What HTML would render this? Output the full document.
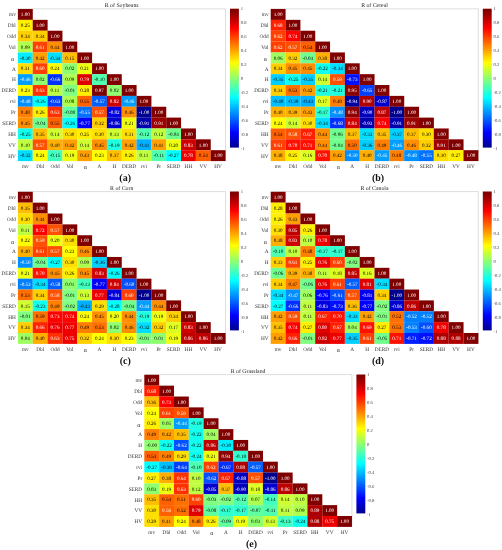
<!DOCTYPE html>
<html><head><meta charset="utf-8"><title>Correlation matrices</title>
<style>
html,body{margin:0;padding:0;background:#fff;}
body{width:502px;height:550px;overflow:hidden;}
svg{display:block;filter:blur(0.3px);}
text{font-family:'Liberation Serif', serif;text-rendering:geometricPrecision;}
.v{font-size:5.1px;text-anchor:middle;}
.rl{font-size:5.3px;text-anchor:end;fill:#333;}
.cl{font-size:5.3px;text-anchor:middle;fill:#333;}
.t{font-size:5.8px;text-anchor:middle;fill:#222;}
.tk{font-size:4.6px;fill:#444;}
.lab{font-size:10px;font-weight:bold;text-anchor:middle;fill:#111;}
</style></head>
<body>
<svg width="502" height="550" viewBox="0 0 502 550">
<defs><linearGradient id="jet" x1="0" y1="0" x2="0" y2="1"><stop offset="0.0000" stop-color="#800000"/><stop offset="0.0156" stop-color="#800000"/><stop offset="0.0312" stop-color="#8f0000"/><stop offset="0.0469" stop-color="#9f0000"/><stop offset="0.0625" stop-color="#af0000"/><stop offset="0.0781" stop-color="#bf0000"/><stop offset="0.0938" stop-color="#cf0000"/><stop offset="0.1094" stop-color="#df0000"/><stop offset="0.1250" stop-color="#ef0000"/><stop offset="0.1406" stop-color="#ff0000"/><stop offset="0.1562" stop-color="#ff1000"/><stop offset="0.1719" stop-color="#ff2000"/><stop offset="0.1875" stop-color="#ff3000"/><stop offset="0.2031" stop-color="#ff4000"/><stop offset="0.2188" stop-color="#ff5000"/><stop offset="0.2344" stop-color="#ff6000"/><stop offset="0.2500" stop-color="#ff7000"/><stop offset="0.2656" stop-color="#ff8000"/><stop offset="0.2812" stop-color="#ff8f00"/><stop offset="0.2969" stop-color="#ff9f00"/><stop offset="0.3125" stop-color="#ffaf00"/><stop offset="0.3281" stop-color="#ffbf00"/><stop offset="0.3438" stop-color="#ffcf00"/><stop offset="0.3594" stop-color="#ffdf00"/><stop offset="0.3750" stop-color="#ffef00"/><stop offset="0.3906" stop-color="#ffff00"/><stop offset="0.4062" stop-color="#efff10"/><stop offset="0.4219" stop-color="#dfff20"/><stop offset="0.4375" stop-color="#cfff30"/><stop offset="0.4531" stop-color="#bfff40"/><stop offset="0.4688" stop-color="#afff50"/><stop offset="0.4844" stop-color="#9fff60"/><stop offset="0.5000" stop-color="#8fff70"/><stop offset="0.5156" stop-color="#80ff80"/><stop offset="0.5312" stop-color="#70ff8f"/><stop offset="0.5469" stop-color="#60ff9f"/><stop offset="0.5625" stop-color="#50ffaf"/><stop offset="0.5781" stop-color="#40ffbf"/><stop offset="0.5938" stop-color="#30ffcf"/><stop offset="0.6094" stop-color="#20ffdf"/><stop offset="0.6250" stop-color="#10ffef"/><stop offset="0.6406" stop-color="#00ffff"/><stop offset="0.6562" stop-color="#00efff"/><stop offset="0.6719" stop-color="#00dfff"/><stop offset="0.6875" stop-color="#00cfff"/><stop offset="0.7031" stop-color="#00bfff"/><stop offset="0.7188" stop-color="#00afff"/><stop offset="0.7344" stop-color="#009fff"/><stop offset="0.7500" stop-color="#008fff"/><stop offset="0.7656" stop-color="#0080ff"/><stop offset="0.7812" stop-color="#0070ff"/><stop offset="0.7969" stop-color="#0060ff"/><stop offset="0.8125" stop-color="#0050ff"/><stop offset="0.8281" stop-color="#0040ff"/><stop offset="0.8438" stop-color="#0030ff"/><stop offset="0.8594" stop-color="#0020ff"/><stop offset="0.8750" stop-color="#0010ff"/><stop offset="0.8906" stop-color="#0000ff"/><stop offset="0.9062" stop-color="#0000ef"/><stop offset="0.9219" stop-color="#0000df"/><stop offset="0.9375" stop-color="#0000cf"/><stop offset="0.9531" stop-color="#0000bf"/><stop offset="0.9688" stop-color="#0000af"/><stop offset="0.9844" stop-color="#00009f"/><stop offset="1.0000" stop-color="#00008f"/></linearGradient></defs>
<rect width="502" height="550" fill="#fff"/>
<path d="M17.90 8.80H225.52V161.04" fill="none" stroke="#c8c8c8" stroke-width="0.6"/>
<rect x="17.90" y="9.00" width="14.88" height="10.91" fill="#800000"/>
<rect x="17.90" y="19.86" width="14.88" height="10.91" fill="#ffef00"/>
<rect x="32.73" y="19.86" width="14.88" height="10.91" fill="#800000"/>
<rect x="17.90" y="30.72" width="14.88" height="10.91" fill="#ffcf00"/>
<rect x="32.73" y="30.72" width="14.88" height="10.91" fill="#ffcf00"/>
<rect x="47.56" y="30.72" width="14.88" height="10.91" fill="#800000"/>
<rect x="17.90" y="41.58" width="14.88" height="10.91" fill="#afff50"/>
<rect x="32.73" y="41.58" width="14.88" height="10.91" fill="#ff4000"/>
<rect x="47.56" y="41.58" width="14.88" height="10.91" fill="#ff8f00"/>
<rect x="62.39" y="41.58" width="14.88" height="10.91" fill="#800000"/>
<rect x="17.90" y="52.44" width="14.88" height="10.91" fill="#00efff"/>
<rect x="32.73" y="52.44" width="14.88" height="10.91" fill="#ff9f00"/>
<rect x="47.56" y="52.44" width="14.88" height="10.91" fill="#00dfff"/>
<rect x="62.39" y="52.44" width="14.88" height="10.91" fill="#ffbf00"/>
<rect x="77.22" y="52.44" width="14.88" height="10.91" fill="#800000"/>
<rect x="17.90" y="63.30" width="14.88" height="10.91" fill="#ffdf00"/>
<rect x="32.73" y="63.30" width="14.88" height="10.91" fill="#ff4000"/>
<rect x="47.56" y="63.30" width="14.88" height="10.91" fill="#ffff00"/>
<rect x="62.39" y="63.30" width="14.88" height="10.91" fill="#8fff70"/>
<rect x="77.22" y="63.30" width="14.88" height="10.91" fill="#efff10"/>
<rect x="92.05" y="63.30" width="14.88" height="10.91" fill="#800000"/>
<rect x="17.90" y="74.16" width="14.88" height="10.91" fill="#009fff"/>
<rect x="32.73" y="74.16" width="14.88" height="10.91" fill="#8fff70"/>
<rect x="47.56" y="74.16" width="14.88" height="10.91" fill="#0030ff"/>
<rect x="62.39" y="74.16" width="14.88" height="10.91" fill="#afff50"/>
<rect x="77.22" y="74.16" width="14.88" height="10.91" fill="#df0000"/>
<rect x="92.05" y="74.16" width="14.88" height="10.91" fill="#50ffaf"/>
<rect x="106.88" y="74.16" width="14.88" height="10.91" fill="#800000"/>
<rect x="17.90" y="85.02" width="14.88" height="10.91" fill="#ffff00"/>
<rect x="32.73" y="85.02" width="14.88" height="10.91" fill="#ff3000"/>
<rect x="47.56" y="85.02" width="14.88" height="10.91" fill="#bfff40"/>
<rect x="62.39" y="85.02" width="14.88" height="10.91" fill="#80ff80"/>
<rect x="77.22" y="85.02" width="14.88" height="10.91" fill="#ffef00"/>
<rect x="92.05" y="85.02" width="14.88" height="10.91" fill="#800000"/>
<rect x="106.88" y="85.02" width="14.88" height="10.91" fill="#8fff70"/>
<rect x="121.71" y="85.02" width="14.88" height="10.91" fill="#800000"/>
<rect x="17.90" y="95.88" width="14.88" height="10.91" fill="#008fff"/>
<rect x="32.73" y="95.88" width="14.88" height="10.91" fill="#00ffff"/>
<rect x="47.56" y="95.88" width="14.88" height="10.91" fill="#0040ff"/>
<rect x="62.39" y="95.88" width="14.88" height="10.91" fill="#afff50"/>
<rect x="77.22" y="95.88" width="14.88" height="10.91" fill="#ff6000"/>
<rect x="92.05" y="95.88" width="14.88" height="10.91" fill="#0060ff"/>
<rect x="106.88" y="95.88" width="14.88" height="10.91" fill="#cf0000"/>
<rect x="121.71" y="95.88" width="14.88" height="10.91" fill="#009fff"/>
<rect x="136.54" y="95.88" width="14.88" height="10.91" fill="#800000"/>
<rect x="17.90" y="106.74" width="14.88" height="10.91" fill="#ff8000"/>
<rect x="32.73" y="106.74" width="14.88" height="10.91" fill="#ffef00"/>
<rect x="47.56" y="106.74" width="14.88" height="10.91" fill="#ff3000"/>
<rect x="62.39" y="106.74" width="14.88" height="10.91" fill="#60ff9f"/>
<rect x="77.22" y="106.74" width="14.88" height="10.91" fill="#0070ff"/>
<rect x="92.05" y="106.74" width="14.88" height="10.91" fill="#ff5000"/>
<rect x="106.88" y="106.74" width="14.88" height="10.91" fill="#0000df"/>
<rect x="121.71" y="106.74" width="14.88" height="10.91" fill="#ff8f00"/>
<rect x="136.54" y="106.74" width="14.88" height="10.91" fill="#00008f"/>
<rect x="151.37" y="106.74" width="14.88" height="10.91" fill="#800000"/>
<rect x="17.90" y="117.60" width="14.88" height="10.91" fill="#ff8f00"/>
<rect x="32.73" y="117.60" width="14.88" height="10.91" fill="#70ff8f"/>
<rect x="47.56" y="117.60" width="14.88" height="10.91" fill="#ff6000"/>
<rect x="62.39" y="117.60" width="14.88" height="10.91" fill="#00ffff"/>
<rect x="77.22" y="117.60" width="14.88" height="10.91" fill="#0000ff"/>
<rect x="92.05" y="117.60" width="14.88" height="10.91" fill="#ffcf00"/>
<rect x="106.88" y="117.60" width="14.88" height="10.91" fill="#0000cf"/>
<rect x="121.71" y="117.60" width="14.88" height="10.91" fill="#efff10"/>
<rect x="136.54" y="117.60" width="14.88" height="10.91" fill="#0000af"/>
<rect x="151.37" y="117.60" width="14.88" height="10.91" fill="#9f0000"/>
<rect x="166.20" y="117.60" width="14.88" height="10.91" fill="#800000"/>
<rect x="17.90" y="128.46" width="14.88" height="10.91" fill="#10ffef"/>
<rect x="32.73" y="128.46" width="14.88" height="10.91" fill="#ffbf00"/>
<rect x="47.56" y="128.46" width="14.88" height="10.91" fill="#cfff30"/>
<rect x="62.39" y="128.46" width="14.88" height="10.91" fill="#ffdf00"/>
<rect x="77.22" y="128.46" width="14.88" height="10.91" fill="#ffef00"/>
<rect x="92.05" y="128.46" width="14.88" height="10.91" fill="#ffdf00"/>
<rect x="106.88" y="128.46" width="14.88" height="10.91" fill="#cfff30"/>
<rect x="121.71" y="128.46" width="14.88" height="10.91" fill="#ffdf00"/>
<rect x="136.54" y="128.46" width="14.88" height="10.91" fill="#50ffaf"/>
<rect x="151.37" y="128.46" width="14.88" height="10.91" fill="#bfff40"/>
<rect x="166.20" y="128.46" width="14.88" height="10.91" fill="#70ff8f"/>
<rect x="181.03" y="128.46" width="14.88" height="10.91" fill="#800000"/>
<rect x="17.90" y="139.32" width="14.88" height="10.91" fill="#bfff40"/>
<rect x="32.73" y="139.32" width="14.88" height="10.91" fill="#ff5000"/>
<rect x="47.56" y="139.32" width="14.88" height="10.91" fill="#ffaf00"/>
<rect x="62.39" y="139.32" width="14.88" height="10.91" fill="#ff9f00"/>
<rect x="77.22" y="139.32" width="14.88" height="10.91" fill="#cfff30"/>
<rect x="92.05" y="139.32" width="14.88" height="10.91" fill="#ff8f00"/>
<rect x="106.88" y="139.32" width="14.88" height="10.91" fill="#20ffdf"/>
<rect x="121.71" y="139.32" width="14.88" height="10.91" fill="#ff9f00"/>
<rect x="136.54" y="139.32" width="14.88" height="10.91" fill="#00afff"/>
<rect x="151.37" y="139.32" width="14.88" height="10.91" fill="#ff9f00"/>
<rect x="166.20" y="139.32" width="14.88" height="10.91" fill="#efff10"/>
<rect x="181.03" y="139.32" width="14.88" height="10.91" fill="#cf0000"/>
<rect x="195.86" y="139.32" width="14.88" height="10.91" fill="#800000"/>
<rect x="17.90" y="150.18" width="14.88" height="10.91" fill="#00dfff"/>
<rect x="32.73" y="150.18" width="14.88" height="10.91" fill="#ffff00"/>
<rect x="47.56" y="150.18" width="14.88" height="10.91" fill="#40ffbf"/>
<rect x="62.39" y="150.18" width="14.88" height="10.91" fill="#efff10"/>
<rect x="77.22" y="150.18" width="14.88" height="10.91" fill="#ff9f00"/>
<rect x="92.05" y="150.18" width="14.88" height="10.91" fill="#ffff00"/>
<rect x="106.88" y="150.18" width="14.88" height="10.91" fill="#ffbf00"/>
<rect x="121.71" y="150.18" width="14.88" height="10.91" fill="#ffef00"/>
<rect x="136.54" y="150.18" width="14.88" height="10.91" fill="#bfff40"/>
<rect x="151.37" y="150.18" width="14.88" height="10.91" fill="#50ffaf"/>
<rect x="166.20" y="150.18" width="14.88" height="10.91" fill="#00ffff"/>
<rect x="181.03" y="150.18" width="14.88" height="10.91" fill="#ef0000"/>
<rect x="195.86" y="150.18" width="14.88" height="10.91" fill="#ff6000"/>
<rect x="210.69" y="150.18" width="14.88" height="10.91" fill="#800000"/>
<text class="v" x="25.31" y="16.18" fill="#fff">1.00</text>
<text class="v" x="25.31" y="27.04" fill="#000">0.25</text>
<text class="v" x="40.14" y="27.04" fill="#fff">1.00</text>
<text class="v" x="25.31" y="37.90" fill="#000">0.34</text>
<text class="v" x="40.14" y="37.90" fill="#000">0.34</text>
<text class="v" x="54.98" y="37.90" fill="#fff">1.00</text>
<text class="v" x="25.31" y="48.76" fill="#000">0.09</text>
<text class="v" x="40.14" y="48.76" fill="#fff">0.61</text>
<text class="v" x="54.98" y="48.76" fill="#000">0.44</text>
<text class="v" x="69.81" y="48.76" fill="#fff">1.00</text>
<text class="v" x="25.31" y="59.62" fill="#000">-0.30</text>
<text class="v" x="40.14" y="59.62" fill="#000">0.42</text>
<text class="v" x="54.98" y="59.62" fill="#000">-0.34</text>
<text class="v" x="69.81" y="59.62" fill="#000">0.15</text>
<text class="v" x="84.64" y="59.62" fill="#fff">1.00</text>
<text class="v" x="25.31" y="70.48" fill="#000">0.31</text>
<text class="v" x="40.14" y="70.48" fill="#fff">0.60</text>
<text class="v" x="54.98" y="70.48" fill="#000">0.24</text>
<text class="v" x="69.81" y="70.48" fill="#000">0.02</text>
<text class="v" x="84.64" y="70.48" fill="#000">0.21</text>
<text class="v" x="99.47" y="70.48" fill="#fff">1.00</text>
<text class="v" x="25.31" y="81.34" fill="#fff">-0.46</text>
<text class="v" x="40.14" y="81.34" fill="#000">0.02</text>
<text class="v" x="54.98" y="81.34" fill="#fff">-0.66</text>
<text class="v" x="69.81" y="81.34" fill="#000">0.09</text>
<text class="v" x="84.64" y="81.34" fill="#fff">0.79</text>
<text class="v" x="99.47" y="81.34" fill="#000">-0.10</text>
<text class="v" x="114.30" y="81.34" fill="#fff">1.00</text>
<text class="v" x="25.31" y="92.20" fill="#000">0.23</text>
<text class="v" x="40.14" y="92.20" fill="#fff">0.63</text>
<text class="v" x="54.98" y="92.20" fill="#000">0.11</text>
<text class="v" x="69.81" y="92.20" fill="#000">-0.01</text>
<text class="v" x="84.64" y="92.20" fill="#000">0.28</text>
<text class="v" x="99.47" y="92.20" fill="#fff">0.97</text>
<text class="v" x="114.30" y="92.20" fill="#000">0.02</text>
<text class="v" x="129.12" y="92.20" fill="#fff">1.00</text>
<text class="v" x="25.31" y="103.06" fill="#fff">-0.48</text>
<text class="v" x="40.14" y="103.06" fill="#000">-0.26</text>
<text class="v" x="54.98" y="103.06" fill="#fff">-0.63</text>
<text class="v" x="69.81" y="103.06" fill="#000">0.08</text>
<text class="v" x="84.64" y="103.06" fill="#000">0.55</text>
<text class="v" x="99.47" y="103.06" fill="#fff">-0.57</text>
<text class="v" x="114.30" y="103.06" fill="#fff">0.82</text>
<text class="v" x="129.12" y="103.06" fill="#fff">-0.46</text>
<text class="v" x="143.95" y="103.06" fill="#fff">1.00</text>
<text class="v" x="25.31" y="113.92" fill="#000">0.48</text>
<text class="v" x="40.14" y="113.92" fill="#000">0.26</text>
<text class="v" x="54.98" y="113.92" fill="#fff">0.63</text>
<text class="v" x="69.81" y="113.92" fill="#000">-0.08</text>
<text class="v" x="84.64" y="113.92" fill="#fff">-0.55</text>
<text class="v" x="99.47" y="113.92" fill="#fff">0.57</text>
<text class="v" x="114.30" y="113.92" fill="#fff">-0.82</text>
<text class="v" x="129.12" y="113.92" fill="#000">0.46</text>
<text class="v" x="143.95" y="113.92" fill="#fff">-1.00</text>
<text class="v" x="158.78" y="113.92" fill="#fff">1.00</text>
<text class="v" x="25.31" y="124.78" fill="#000">0.45</text>
<text class="v" x="40.14" y="124.78" fill="#000">-0.04</text>
<text class="v" x="54.98" y="124.78" fill="#000">0.55</text>
<text class="v" x="69.81" y="124.78" fill="#000">-0.26</text>
<text class="v" x="84.64" y="124.78" fill="#fff">-0.77</text>
<text class="v" x="99.47" y="124.78" fill="#000">0.32</text>
<text class="v" x="114.30" y="124.78" fill="#fff">-0.86</text>
<text class="v" x="129.12" y="124.78" fill="#000">0.21</text>
<text class="v" x="143.95" y="124.78" fill="#fff">-0.91</text>
<text class="v" x="158.78" y="124.78" fill="#fff">0.91</text>
<text class="v" x="173.62" y="124.78" fill="#fff">1.00</text>
<text class="v" x="25.31" y="135.64" fill="#000">-0.25</text>
<text class="v" x="40.14" y="135.64" fill="#000">0.35</text>
<text class="v" x="54.98" y="135.64" fill="#000">0.14</text>
<text class="v" x="69.81" y="135.64" fill="#000">0.30</text>
<text class="v" x="84.64" y="135.64" fill="#000">0.25</text>
<text class="v" x="99.47" y="135.64" fill="#000">0.30</text>
<text class="v" x="114.30" y="135.64" fill="#000">0.13</text>
<text class="v" x="129.12" y="135.64" fill="#000">0.31</text>
<text class="v" x="143.95" y="135.64" fill="#000">-0.12</text>
<text class="v" x="158.78" y="135.64" fill="#000">0.12</text>
<text class="v" x="173.62" y="135.64" fill="#000">-0.04</text>
<text class="v" x="188.44" y="135.64" fill="#fff">1.00</text>
<text class="v" x="25.31" y="146.50" fill="#000">0.10</text>
<text class="v" x="40.14" y="146.50" fill="#fff">0.57</text>
<text class="v" x="54.98" y="146.50" fill="#000">0.40</text>
<text class="v" x="69.81" y="146.50" fill="#000">0.42</text>
<text class="v" x="84.64" y="146.50" fill="#000">0.14</text>
<text class="v" x="99.47" y="146.50" fill="#000">0.45</text>
<text class="v" x="114.30" y="146.50" fill="#000">-0.19</text>
<text class="v" x="129.12" y="146.50" fill="#000">0.42</text>
<text class="v" x="143.95" y="146.50" fill="#000">-0.41</text>
<text class="v" x="158.78" y="146.50" fill="#000">0.41</text>
<text class="v" x="173.62" y="146.50" fill="#000">0.20</text>
<text class="v" x="188.44" y="146.50" fill="#fff">0.83</text>
<text class="v" x="203.28" y="146.50" fill="#fff">1.00</text>
<text class="v" x="25.31" y="157.36" fill="#000">-0.32</text>
<text class="v" x="40.14" y="157.36" fill="#000">0.24</text>
<text class="v" x="54.98" y="157.36" fill="#000">-0.15</text>
<text class="v" x="69.81" y="157.36" fill="#000">0.19</text>
<text class="v" x="84.64" y="157.36" fill="#000">0.43</text>
<text class="v" x="99.47" y="157.36" fill="#000">0.23</text>
<text class="v" x="114.30" y="157.36" fill="#000">0.37</text>
<text class="v" x="129.12" y="157.36" fill="#000">0.26</text>
<text class="v" x="143.95" y="157.36" fill="#000">0.11</text>
<text class="v" x="158.78" y="157.36" fill="#000">-0.11</text>
<text class="v" x="173.62" y="157.36" fill="#000">-0.27</text>
<text class="v" x="188.44" y="157.36" fill="#fff">0.78</text>
<text class="v" x="203.28" y="157.36" fill="#000">0.54</text>
<text class="v" x="218.10" y="157.36" fill="#fff">1.00</text>
<text class="rl" x="15.80" y="16.33">mv</text>
<text class="rl" x="15.80" y="27.19">Dbl</text>
<text class="rl" x="15.80" y="38.05">Odd</text>
<text class="rl" x="15.80" y="48.91">Vol</text>
<text class="rl" x="14.10" y="61.37" style="font-size:6px">α</text>
<text class="rl" x="15.80" y="70.63">A</text>
<text class="rl" x="15.80" y="81.49">H</text>
<text class="rl" x="15.80" y="92.35">DERD</text>
<text class="rl" x="15.80" y="103.21">rvi</text>
<text class="rl" x="15.80" y="114.07">Pr</text>
<text class="rl" x="15.80" y="124.93">SERD</text>
<text class="rl" x="15.80" y="135.79">HH</text>
<text class="rl" x="15.80" y="146.65">VV</text>
<text class="rl" x="15.80" y="157.51">HV</text>
<text class="cl" x="25.31" y="168.44">mv</text>
<text class="cl" x="40.14" y="168.44">Dbl</text>
<text class="cl" x="54.98" y="168.44">Odd</text>
<text class="cl" x="69.81" y="168.44">Vol</text>
<text class="cl" x="85.44" y="168.94" style="font-size:6px">α</text>
<text class="cl" x="99.47" y="168.44">A</text>
<text class="cl" x="114.30" y="168.44">H</text>
<text class="cl" x="129.12" y="168.44">DERD</text>
<text class="cl" x="143.95" y="168.44">rvi</text>
<text class="cl" x="158.78" y="168.44">Pr</text>
<text class="cl" x="173.62" y="168.44">SERD</text>
<text class="cl" x="188.44" y="168.44">HH</text>
<text class="cl" x="203.28" y="168.44">VV</text>
<text class="cl" x="218.10" y="168.44">HV</text>
<text class="t" x="121.71" y="7.00">R of Soybeans</text>
<rect x="230.00" y="8.70" width="8.90" height="138.90" fill="url(#jet)"/>
<text class="tk" x="240.70" y="10.10">1</text>
<text class="tk" x="240.70" y="24.08">0.8</text>
<path d="M238.00 22.59h0.9" stroke="#444" stroke-width="0.25"/>
<text class="tk" x="240.70" y="38.06">0.6</text>
<path d="M238.00 36.48h0.9" stroke="#444" stroke-width="0.25"/>
<text class="tk" x="240.70" y="52.04">0.4</text>
<path d="M238.00 50.37h0.9" stroke="#444" stroke-width="0.25"/>
<text class="tk" x="240.70" y="66.02">0.2</text>
<path d="M238.00 64.26h0.9" stroke="#444" stroke-width="0.25"/>
<text class="tk" x="240.70" y="80.00">0</text>
<path d="M238.00 78.15h0.9" stroke="#444" stroke-width="0.25"/>
<text class="tk" x="240.70" y="93.98">-0.2</text>
<path d="M238.00 92.04h0.9" stroke="#444" stroke-width="0.25"/>
<text class="tk" x="240.70" y="107.96">-0.4</text>
<path d="M238.00 105.93h0.9" stroke="#444" stroke-width="0.25"/>
<text class="tk" x="240.70" y="121.94">-0.6</text>
<path d="M238.00 119.82h0.9" stroke="#444" stroke-width="0.25"/>
<text class="tk" x="240.70" y="135.92">-0.8</text>
<path d="M238.00 133.71h0.9" stroke="#444" stroke-width="0.25"/>
<text class="tk" x="240.70" y="149.90">-1</text>
<text class="lab" x="125.20" y="181.00">(a)</text>
<path d="M270.70 8.80H478.32V161.04" fill="none" stroke="#c8c8c8" stroke-width="0.6"/>
<rect x="270.70" y="9.00" width="14.88" height="10.91" fill="#800000"/>
<rect x="270.70" y="19.86" width="14.88" height="10.91" fill="#ff2000"/>
<rect x="285.53" y="19.86" width="14.88" height="10.91" fill="#800000"/>
<rect x="270.70" y="30.72" width="14.88" height="10.91" fill="#ff4000"/>
<rect x="285.53" y="30.72" width="14.88" height="10.91" fill="#ff0000"/>
<rect x="300.36" y="30.72" width="14.88" height="10.91" fill="#800000"/>
<rect x="270.70" y="41.58" width="14.88" height="10.91" fill="#ff4000"/>
<rect x="285.53" y="41.58" width="14.88" height="10.91" fill="#ff5000"/>
<rect x="300.36" y="41.58" width="14.88" height="10.91" fill="#ff6000"/>
<rect x="315.19" y="41.58" width="14.88" height="10.91" fill="#800000"/>
<rect x="270.70" y="52.44" width="14.88" height="10.91" fill="#9fff60"/>
<rect x="285.53" y="52.44" width="14.88" height="10.91" fill="#ffcf00"/>
<rect x="300.36" y="52.44" width="14.88" height="10.91" fill="#70ff8f"/>
<rect x="315.19" y="52.44" width="14.88" height="10.91" fill="#ffaf00"/>
<rect x="330.02" y="52.44" width="14.88" height="10.91" fill="#800000"/>
<rect x="270.70" y="63.30" width="14.88" height="10.91" fill="#ffcf00"/>
<rect x="285.53" y="63.30" width="14.88" height="10.91" fill="#ff8f00"/>
<rect x="300.36" y="63.30" width="14.88" height="10.91" fill="#ff8f00"/>
<rect x="315.19" y="63.30" width="14.88" height="10.91" fill="#10ffef"/>
<rect x="330.02" y="63.30" width="14.88" height="10.91" fill="#00dfff"/>
<rect x="344.85" y="63.30" width="14.88" height="10.91" fill="#800000"/>
<rect x="270.70" y="74.16" width="14.88" height="10.91" fill="#00cfff"/>
<rect x="285.53" y="74.16" width="14.88" height="10.91" fill="#10ffef"/>
<rect x="300.36" y="74.16" width="14.88" height="10.91" fill="#00cfff"/>
<rect x="315.19" y="74.16" width="14.88" height="10.91" fill="#cfff30"/>
<rect x="330.02" y="74.16" width="14.88" height="10.91" fill="#ff5000"/>
<rect x="344.85" y="74.16" width="14.88" height="10.91" fill="#0010ff"/>
<rect x="359.68" y="74.16" width="14.88" height="10.91" fill="#800000"/>
<rect x="270.70" y="85.02" width="14.88" height="10.91" fill="#ffcf00"/>
<rect x="285.53" y="85.02" width="14.88" height="10.91" fill="#ff7000"/>
<rect x="300.36" y="85.02" width="14.88" height="10.91" fill="#ff9f00"/>
<rect x="315.19" y="85.02" width="14.88" height="10.91" fill="#20ffdf"/>
<rect x="330.02" y="85.02" width="14.88" height="10.91" fill="#20ffdf"/>
<rect x="344.85" y="85.02" width="14.88" height="10.91" fill="#8f0000"/>
<rect x="359.68" y="85.02" width="14.88" height="10.91" fill="#0040ff"/>
<rect x="374.51" y="85.02" width="14.88" height="10.91" fill="#800000"/>
<rect x="270.70" y="95.88" width="14.88" height="10.91" fill="#00bfff"/>
<rect x="285.53" y="95.88" width="14.88" height="10.91" fill="#00bfff"/>
<rect x="300.36" y="95.88" width="14.88" height="10.91" fill="#00afff"/>
<rect x="315.19" y="95.88" width="14.88" height="10.91" fill="#dfff20"/>
<rect x="330.02" y="95.88" width="14.88" height="10.91" fill="#ff8000"/>
<rect x="344.85" y="95.88" width="14.88" height="10.91" fill="#00009f"/>
<rect x="359.68" y="95.88" width="14.88" height="10.91" fill="#af0000"/>
<rect x="374.51" y="95.88" width="14.88" height="10.91" fill="#0000cf"/>
<rect x="389.34" y="95.88" width="14.88" height="10.91" fill="#800000"/>
<rect x="270.70" y="106.74" width="14.88" height="10.91" fill="#ffaf00"/>
<rect x="285.53" y="106.74" width="14.88" height="10.91" fill="#ffaf00"/>
<rect x="300.36" y="106.74" width="14.88" height="10.91" fill="#ff9f00"/>
<rect x="315.19" y="106.74" width="14.88" height="10.91" fill="#30ffcf"/>
<rect x="330.02" y="106.74" width="14.88" height="10.91" fill="#008fff"/>
<rect x="344.85" y="106.74" width="14.88" height="10.91" fill="#8f0000"/>
<rect x="359.68" y="106.74" width="14.88" height="10.91" fill="#0000bf"/>
<rect x="374.51" y="106.74" width="14.88" height="10.91" fill="#bf0000"/>
<rect x="389.34" y="106.74" width="14.88" height="10.91" fill="#00008f"/>
<rect x="404.17" y="106.74" width="14.88" height="10.91" fill="#800000"/>
<rect x="270.70" y="117.60" width="14.88" height="10.91" fill="#ffff00"/>
<rect x="285.53" y="117.60" width="14.88" height="10.91" fill="#cfff30"/>
<rect x="300.36" y="117.60" width="14.88" height="10.91" fill="#ffdf00"/>
<rect x="315.19" y="117.60" width="14.88" height="10.91" fill="#00dfff"/>
<rect x="330.02" y="117.60" width="14.88" height="10.91" fill="#0030ff"/>
<rect x="344.85" y="117.60" width="14.88" height="10.91" fill="#cf0000"/>
<rect x="359.68" y="117.60" width="14.88" height="10.91" fill="#0000af"/>
<rect x="374.51" y="117.60" width="14.88" height="10.91" fill="#ff0000"/>
<rect x="389.34" y="117.60" width="14.88" height="10.91" fill="#0000af"/>
<rect x="404.17" y="117.60" width="14.88" height="10.91" fill="#9f0000"/>
<rect x="419.00" y="117.60" width="14.88" height="10.91" fill="#800000"/>
<rect x="270.70" y="128.46" width="14.88" height="10.91" fill="#ff6000"/>
<rect x="285.53" y="128.46" width="14.88" height="10.91" fill="#ff5000"/>
<rect x="300.36" y="128.46" width="14.88" height="10.91" fill="#ff2000"/>
<rect x="315.19" y="128.46" width="14.88" height="10.91" fill="#ff8f00"/>
<rect x="330.02" y="128.46" width="14.88" height="10.91" fill="#70ff8f"/>
<rect x="344.85" y="128.46" width="14.88" height="10.91" fill="#ffbf00"/>
<rect x="359.68" y="128.46" width="14.88" height="10.91" fill="#00dfff"/>
<rect x="374.51" y="128.46" width="14.88" height="10.91" fill="#ffbf00"/>
<rect x="389.34" y="128.46" width="14.88" height="10.91" fill="#00cfff"/>
<rect x="404.17" y="128.46" width="14.88" height="10.91" fill="#ffbf00"/>
<rect x="419.00" y="128.46" width="14.88" height="10.91" fill="#ffdf00"/>
<rect x="433.83" y="128.46" width="14.88" height="10.91" fill="#800000"/>
<rect x="270.70" y="139.32" width="14.88" height="10.91" fill="#ff4000"/>
<rect x="285.53" y="139.32" width="14.88" height="10.91" fill="#ff1000"/>
<rect x="300.36" y="139.32" width="14.88" height="10.91" fill="#ff1000"/>
<rect x="315.19" y="139.32" width="14.88" height="10.91" fill="#ff8f00"/>
<rect x="330.02" y="139.32" width="14.88" height="10.91" fill="#70ff8f"/>
<rect x="344.85" y="139.32" width="14.88" height="10.91" fill="#ff7000"/>
<rect x="359.68" y="139.32" width="14.88" height="10.91" fill="#00cfff"/>
<rect x="374.51" y="139.32" width="14.88" height="10.91" fill="#ff8000"/>
<rect x="389.34" y="139.32" width="14.88" height="10.91" fill="#009fff"/>
<rect x="404.17" y="139.32" width="14.88" height="10.91" fill="#ff8f00"/>
<rect x="419.00" y="139.32" width="14.88" height="10.91" fill="#ffcf00"/>
<rect x="433.83" y="139.32" width="14.88" height="10.91" fill="#9f0000"/>
<rect x="448.66" y="139.32" width="14.88" height="10.91" fill="#800000"/>
<rect x="270.70" y="150.18" width="14.88" height="10.91" fill="#ffaf00"/>
<rect x="285.53" y="150.18" width="14.88" height="10.91" fill="#ffef00"/>
<rect x="300.36" y="150.18" width="14.88" height="10.91" fill="#dfff20"/>
<rect x="315.19" y="150.18" width="14.88" height="10.91" fill="#ff1000"/>
<rect x="330.02" y="150.18" width="14.88" height="10.91" fill="#ff9f00"/>
<rect x="344.85" y="150.18" width="14.88" height="10.91" fill="#008fff"/>
<rect x="359.68" y="150.18" width="14.88" height="10.91" fill="#ffaf00"/>
<rect x="374.51" y="150.18" width="14.88" height="10.91" fill="#009fff"/>
<rect x="389.34" y="150.18" width="14.88" height="10.91" fill="#ff8000"/>
<rect x="404.17" y="150.18" width="14.88" height="10.91" fill="#008fff"/>
<rect x="419.00" y="150.18" width="14.88" height="10.91" fill="#0070ff"/>
<rect x="433.83" y="150.18" width="14.88" height="10.91" fill="#ffdf00"/>
<rect x="448.66" y="150.18" width="14.88" height="10.91" fill="#ffef00"/>
<rect x="463.49" y="150.18" width="14.88" height="10.91" fill="#800000"/>
<text class="v" x="278.12" y="16.18" fill="#fff">1.00</text>
<text class="v" x="278.12" y="27.04" fill="#fff">0.68</text>
<text class="v" x="292.94" y="27.04" fill="#fff">1.00</text>
<text class="v" x="278.12" y="37.90" fill="#fff">0.62</text>
<text class="v" x="292.94" y="37.90" fill="#fff">0.74</text>
<text class="v" x="307.78" y="37.90" fill="#fff">1.00</text>
<text class="v" x="278.12" y="48.76" fill="#fff">0.62</text>
<text class="v" x="292.94" y="48.76" fill="#fff">0.57</text>
<text class="v" x="307.78" y="48.76" fill="#000">0.54</text>
<text class="v" x="322.61" y="48.76" fill="#fff">1.00</text>
<text class="v" x="278.12" y="59.62" fill="#000">0.06</text>
<text class="v" x="292.94" y="59.62" fill="#000">0.32</text>
<text class="v" x="307.78" y="59.62" fill="#000">-0.04</text>
<text class="v" x="322.61" y="59.62" fill="#000">0.38</text>
<text class="v" x="337.44" y="59.62" fill="#fff">1.00</text>
<text class="v" x="278.12" y="70.48" fill="#000">0.34</text>
<text class="v" x="292.94" y="70.48" fill="#000">0.45</text>
<text class="v" x="307.78" y="70.48" fill="#000">0.45</text>
<text class="v" x="322.61" y="70.48" fill="#000">-0.22</text>
<text class="v" x="337.44" y="70.48" fill="#000">-0.34</text>
<text class="v" x="352.27" y="70.48" fill="#fff">1.00</text>
<text class="v" x="278.12" y="81.34" fill="#000">-0.35</text>
<text class="v" x="292.94" y="81.34" fill="#000">-0.25</text>
<text class="v" x="307.78" y="81.34" fill="#000">-0.35</text>
<text class="v" x="322.61" y="81.34" fill="#000">0.14</text>
<text class="v" x="337.44" y="81.34" fill="#fff">0.59</text>
<text class="v" x="352.27" y="81.34" fill="#fff">-0.73</text>
<text class="v" x="367.10" y="81.34" fill="#fff">1.00</text>
<text class="v" x="278.12" y="92.20" fill="#000">0.34</text>
<text class="v" x="292.94" y="92.20" fill="#000">0.53</text>
<text class="v" x="307.78" y="92.20" fill="#000">0.42</text>
<text class="v" x="322.61" y="92.20" fill="#000">-0.21</text>
<text class="v" x="337.44" y="92.20" fill="#000">-0.21</text>
<text class="v" x="352.27" y="92.20" fill="#fff">0.95</text>
<text class="v" x="367.10" y="92.20" fill="#fff">-0.65</text>
<text class="v" x="381.93" y="92.20" fill="#fff">1.00</text>
<text class="v" x="278.12" y="103.06" fill="#000">-0.40</text>
<text class="v" x="292.94" y="103.06" fill="#000">-0.39</text>
<text class="v" x="307.78" y="103.06" fill="#000">-0.43</text>
<text class="v" x="322.61" y="103.06" fill="#000">0.17</text>
<text class="v" x="337.44" y="103.06" fill="#000">0.48</text>
<text class="v" x="352.27" y="103.06" fill="#fff">-0.94</text>
<text class="v" x="367.10" y="103.06" fill="#fff">0.90</text>
<text class="v" x="381.93" y="103.06" fill="#fff">-0.87</text>
<text class="v" x="396.75" y="103.06" fill="#fff">1.00</text>
<text class="v" x="278.12" y="113.92" fill="#000">0.40</text>
<text class="v" x="292.94" y="113.92" fill="#000">0.39</text>
<text class="v" x="307.78" y="113.92" fill="#000">0.43</text>
<text class="v" x="322.61" y="113.92" fill="#000">-0.17</text>
<text class="v" x="337.44" y="113.92" fill="#fff">-0.48</text>
<text class="v" x="352.27" y="113.92" fill="#fff">0.94</text>
<text class="v" x="367.10" y="113.92" fill="#fff">-0.90</text>
<text class="v" x="381.93" y="113.92" fill="#fff">0.87</text>
<text class="v" x="396.75" y="113.92" fill="#fff">-1.00</text>
<text class="v" x="411.58" y="113.92" fill="#fff">1.00</text>
<text class="v" x="278.12" y="124.78" fill="#000">0.24</text>
<text class="v" x="292.94" y="124.78" fill="#000">0.14</text>
<text class="v" x="307.78" y="124.78" fill="#000">0.30</text>
<text class="v" x="322.61" y="124.78" fill="#000">-0.34</text>
<text class="v" x="337.44" y="124.78" fill="#fff">-0.68</text>
<text class="v" x="352.27" y="124.78" fill="#fff">0.84</text>
<text class="v" x="367.10" y="124.78" fill="#fff">-0.93</text>
<text class="v" x="381.93" y="124.78" fill="#fff">0.74</text>
<text class="v" x="396.75" y="124.78" fill="#fff">-0.91</text>
<text class="v" x="411.58" y="124.78" fill="#fff">0.91</text>
<text class="v" x="426.42" y="124.78" fill="#fff">1.00</text>
<text class="v" x="278.12" y="135.64" fill="#000">0.54</text>
<text class="v" x="292.94" y="135.64" fill="#fff">0.58</text>
<text class="v" x="307.78" y="135.64" fill="#fff">0.67</text>
<text class="v" x="322.61" y="135.64" fill="#000">0.44</text>
<text class="v" x="337.44" y="135.64" fill="#000">-0.06</text>
<text class="v" x="352.27" y="135.64" fill="#000">0.37</text>
<text class="v" x="367.10" y="135.64" fill="#000">-0.33</text>
<text class="v" x="381.93" y="135.64" fill="#000">0.35</text>
<text class="v" x="396.75" y="135.64" fill="#000">-0.37</text>
<text class="v" x="411.58" y="135.64" fill="#000">0.37</text>
<text class="v" x="426.42" y="135.64" fill="#000">0.30</text>
<text class="v" x="441.25" y="135.64" fill="#fff">1.00</text>
<text class="v" x="278.12" y="146.50" fill="#fff">0.61</text>
<text class="v" x="292.94" y="146.50" fill="#fff">0.70</text>
<text class="v" x="307.78" y="146.50" fill="#fff">0.71</text>
<text class="v" x="322.61" y="146.50" fill="#000">0.44</text>
<text class="v" x="337.44" y="146.50" fill="#000">-0.04</text>
<text class="v" x="352.27" y="146.50" fill="#000">0.50</text>
<text class="v" x="367.10" y="146.50" fill="#000">-0.36</text>
<text class="v" x="381.93" y="146.50" fill="#000">0.49</text>
<text class="v" x="396.75" y="146.50" fill="#fff">-0.46</text>
<text class="v" x="411.58" y="146.50" fill="#000">0.46</text>
<text class="v" x="426.42" y="146.50" fill="#000">0.32</text>
<text class="v" x="441.25" y="146.50" fill="#fff">0.91</text>
<text class="v" x="456.07" y="146.50" fill="#fff">1.00</text>
<text class="v" x="278.12" y="157.36" fill="#000">0.38</text>
<text class="v" x="292.94" y="157.36" fill="#000">0.25</text>
<text class="v" x="307.78" y="157.36" fill="#000">0.16</text>
<text class="v" x="322.61" y="157.36" fill="#fff">0.70</text>
<text class="v" x="337.44" y="157.36" fill="#000">0.42</text>
<text class="v" x="352.27" y="157.36" fill="#fff">-0.50</text>
<text class="v" x="367.10" y="157.36" fill="#000">0.40</text>
<text class="v" x="381.93" y="157.36" fill="#fff">-0.45</text>
<text class="v" x="396.75" y="157.36" fill="#000">0.48</text>
<text class="v" x="411.58" y="157.36" fill="#fff">-0.48</text>
<text class="v" x="426.42" y="157.36" fill="#fff">-0.55</text>
<text class="v" x="441.25" y="157.36" fill="#000">0.30</text>
<text class="v" x="456.07" y="157.36" fill="#000">0.27</text>
<text class="v" x="470.91" y="157.36" fill="#fff">1.00</text>
<text class="rl" x="268.60" y="16.33">mv</text>
<text class="rl" x="268.60" y="27.19">Dbl</text>
<text class="rl" x="268.60" y="38.05">Odd</text>
<text class="rl" x="268.60" y="48.91">Vol</text>
<text class="rl" x="266.90" y="61.37" style="font-size:6px">α</text>
<text class="rl" x="268.60" y="70.63">A</text>
<text class="rl" x="268.60" y="81.49">H</text>
<text class="rl" x="268.60" y="92.35">DERD</text>
<text class="rl" x="268.60" y="103.21">rvi</text>
<text class="rl" x="268.60" y="114.07">Pr</text>
<text class="rl" x="268.60" y="124.93">SERD</text>
<text class="rl" x="268.60" y="135.79">HH</text>
<text class="rl" x="268.60" y="146.65">VV</text>
<text class="rl" x="268.60" y="157.51">HV</text>
<text class="cl" x="278.12" y="168.44">mv</text>
<text class="cl" x="292.94" y="168.44">Dbl</text>
<text class="cl" x="307.78" y="168.44">Odd</text>
<text class="cl" x="322.61" y="168.44">Vol</text>
<text class="cl" x="338.24" y="168.94" style="font-size:6px">α</text>
<text class="cl" x="352.27" y="168.44">A</text>
<text class="cl" x="367.10" y="168.44">H</text>
<text class="cl" x="381.93" y="168.44">DERD</text>
<text class="cl" x="396.75" y="168.44">rvi</text>
<text class="cl" x="411.58" y="168.44">Pr</text>
<text class="cl" x="426.42" y="168.44">SERD</text>
<text class="cl" x="441.25" y="168.44">HH</text>
<text class="cl" x="456.07" y="168.44">VV</text>
<text class="cl" x="470.91" y="168.44">HV</text>
<text class="t" x="374.51" y="7.00">R of Cereal</text>
<rect x="482.80" y="8.70" width="8.90" height="138.90" fill="url(#jet)"/>
<text class="tk" x="493.50" y="10.10">1</text>
<text class="tk" x="493.50" y="24.08">0.8</text>
<path d="M490.80 22.59h0.9" stroke="#444" stroke-width="0.25"/>
<text class="tk" x="493.50" y="38.06">0.6</text>
<path d="M490.80 36.48h0.9" stroke="#444" stroke-width="0.25"/>
<text class="tk" x="493.50" y="52.04">0.4</text>
<path d="M490.80 50.37h0.9" stroke="#444" stroke-width="0.25"/>
<text class="tk" x="493.50" y="66.02">0.2</text>
<path d="M490.80 64.26h0.9" stroke="#444" stroke-width="0.25"/>
<text class="tk" x="493.50" y="80.00">0</text>
<path d="M490.80 78.15h0.9" stroke="#444" stroke-width="0.25"/>
<text class="tk" x="493.50" y="93.98">-0.2</text>
<path d="M490.80 92.04h0.9" stroke="#444" stroke-width="0.25"/>
<text class="tk" x="493.50" y="107.96">-0.4</text>
<path d="M490.80 105.93h0.9" stroke="#444" stroke-width="0.25"/>
<text class="tk" x="493.50" y="121.94">-0.6</text>
<path d="M490.80 119.82h0.9" stroke="#444" stroke-width="0.25"/>
<text class="tk" x="493.50" y="135.92">-0.8</text>
<path d="M490.80 133.71h0.9" stroke="#444" stroke-width="0.25"/>
<text class="tk" x="493.50" y="149.90">-1</text>
<text class="lab" x="378.00" y="181.00">(b)</text>
<path d="M17.90 191.60H225.52V343.84" fill="none" stroke="#c8c8c8" stroke-width="0.6"/>
<rect x="17.90" y="191.80" width="14.88" height="10.91" fill="#800000"/>
<rect x="17.90" y="202.66" width="14.88" height="10.91" fill="#ffbf00"/>
<rect x="32.73" y="202.66" width="14.88" height="10.91" fill="#800000"/>
<rect x="17.90" y="213.52" width="14.88" height="10.91" fill="#ffdf00"/>
<rect x="32.73" y="213.52" width="14.88" height="10.91" fill="#ff8f00"/>
<rect x="47.56" y="213.52" width="14.88" height="10.91" fill="#800000"/>
<rect x="17.90" y="224.38" width="14.88" height="10.91" fill="#bfff40"/>
<rect x="32.73" y="224.38" width="14.88" height="10.91" fill="#ff0000"/>
<rect x="47.56" y="224.38" width="14.88" height="10.91" fill="#ff5000"/>
<rect x="62.39" y="224.38" width="14.88" height="10.91" fill="#800000"/>
<rect x="17.90" y="235.24" width="14.88" height="10.91" fill="#ffff00"/>
<rect x="32.73" y="235.24" width="14.88" height="10.91" fill="#ff5000"/>
<rect x="47.56" y="235.24" width="14.88" height="10.91" fill="#efff10"/>
<rect x="62.39" y="235.24" width="14.88" height="10.91" fill="#ffdf00"/>
<rect x="77.22" y="235.24" width="14.88" height="10.91" fill="#800000"/>
<rect x="17.90" y="246.10" width="14.88" height="10.91" fill="#ffaf00"/>
<rect x="32.73" y="246.10" width="14.88" height="10.91" fill="#ff4000"/>
<rect x="47.56" y="246.10" width="14.88" height="10.91" fill="#ff5000"/>
<rect x="62.39" y="246.10" width="14.88" height="10.91" fill="#ffff00"/>
<rect x="77.22" y="246.10" width="14.88" height="10.91" fill="#ff8f00"/>
<rect x="92.05" y="246.10" width="14.88" height="10.91" fill="#800000"/>
<rect x="17.90" y="256.96" width="14.88" height="10.91" fill="#008fff"/>
<rect x="32.73" y="256.96" width="14.88" height="10.91" fill="#70ff8f"/>
<rect x="47.56" y="256.96" width="14.88" height="10.91" fill="#00ffff"/>
<rect x="62.39" y="256.96" width="14.88" height="10.91" fill="#ffdf00"/>
<rect x="77.22" y="256.96" width="14.88" height="10.91" fill="#afff50"/>
<rect x="92.05" y="256.96" width="14.88" height="10.91" fill="#00cfff"/>
<rect x="106.88" y="256.96" width="14.88" height="10.91" fill="#800000"/>
<rect x="17.90" y="267.82" width="14.88" height="10.91" fill="#efff10"/>
<rect x="32.73" y="267.82" width="14.88" height="10.91" fill="#ff1000"/>
<rect x="47.56" y="267.82" width="14.88" height="10.91" fill="#ff8f00"/>
<rect x="62.39" y="267.82" width="14.88" height="10.91" fill="#ffef00"/>
<rect x="77.22" y="267.82" width="14.88" height="10.91" fill="#ff8f00"/>
<rect x="92.05" y="267.82" width="14.88" height="10.91" fill="#cf0000"/>
<rect x="106.88" y="267.82" width="14.88" height="10.91" fill="#00ffff"/>
<rect x="121.71" y="267.82" width="14.88" height="10.91" fill="#800000"/>
<rect x="17.90" y="278.68" width="14.88" height="10.91" fill="#0080ff"/>
<rect x="32.73" y="278.68" width="14.88" height="10.91" fill="#00dfff"/>
<rect x="47.56" y="278.68" width="14.88" height="10.91" fill="#0060ff"/>
<rect x="62.39" y="278.68" width="14.88" height="10.91" fill="#8fff70"/>
<rect x="77.22" y="278.68" width="14.88" height="10.91" fill="#40ffbf"/>
<rect x="92.05" y="278.68" width="14.88" height="10.91" fill="#0000ff"/>
<rect x="106.88" y="278.68" width="14.88" height="10.91" fill="#cf0000"/>
<rect x="121.71" y="278.68" width="14.88" height="10.91" fill="#0050ff"/>
<rect x="136.54" y="278.68" width="14.88" height="10.91" fill="#800000"/>
<rect x="17.90" y="289.54" width="14.88" height="10.91" fill="#ff7000"/>
<rect x="32.73" y="289.54" width="14.88" height="10.91" fill="#ffcf00"/>
<rect x="47.56" y="289.54" width="14.88" height="10.91" fill="#ff5000"/>
<rect x="62.39" y="289.54" width="14.88" height="10.91" fill="#80ff80"/>
<rect x="77.22" y="289.54" width="14.88" height="10.91" fill="#cfff30"/>
<rect x="92.05" y="289.54" width="14.88" height="10.91" fill="#ef0000"/>
<rect x="106.88" y="289.54" width="14.88" height="10.91" fill="#0000df"/>
<rect x="121.71" y="289.54" width="14.88" height="10.91" fill="#ff4000"/>
<rect x="136.54" y="289.54" width="14.88" height="10.91" fill="#00008f"/>
<rect x="151.37" y="289.54" width="14.88" height="10.91" fill="#800000"/>
<rect x="17.90" y="300.40" width="14.88" height="10.91" fill="#cfff30"/>
<rect x="32.73" y="300.40" width="14.88" height="10.91" fill="#10ffef"/>
<rect x="47.56" y="300.40" width="14.88" height="10.91" fill="#ff8000"/>
<rect x="62.39" y="300.40" width="14.88" height="10.91" fill="#80ff80"/>
<rect x="77.22" y="300.40" width="14.88" height="10.91" fill="#00afff"/>
<rect x="92.05" y="300.40" width="14.88" height="10.91" fill="#ffdf00"/>
<rect x="106.88" y="300.40" width="14.88" height="10.91" fill="#00ffff"/>
<rect x="121.71" y="300.40" width="14.88" height="10.91" fill="#70ff8f"/>
<rect x="136.54" y="300.40" width="14.88" height="10.91" fill="#009fff"/>
<rect x="151.37" y="300.40" width="14.88" height="10.91" fill="#ff8f00"/>
<rect x="166.20" y="300.40" width="14.88" height="10.91" fill="#800000"/>
<rect x="17.90" y="311.26" width="14.88" height="10.91" fill="#80ff80"/>
<rect x="32.73" y="311.26" width="14.88" height="10.91" fill="#ff7000"/>
<rect x="47.56" y="311.26" width="14.88" height="10.91" fill="#ff0000"/>
<rect x="62.39" y="311.26" width="14.88" height="10.91" fill="#ff0000"/>
<rect x="77.22" y="311.26" width="14.88" height="10.91" fill="#ffff00"/>
<rect x="92.05" y="311.26" width="14.88" height="10.91" fill="#ff8f00"/>
<rect x="106.88" y="311.26" width="14.88" height="10.91" fill="#efff10"/>
<rect x="121.71" y="311.26" width="14.88" height="10.91" fill="#ff8f00"/>
<rect x="136.54" y="311.26" width="14.88" height="10.91" fill="#20ffdf"/>
<rect x="151.37" y="311.26" width="14.88" height="10.91" fill="#efff10"/>
<rect x="166.20" y="311.26" width="14.88" height="10.91" fill="#ffcf00"/>
<rect x="181.03" y="311.26" width="14.88" height="10.91" fill="#800000"/>
<rect x="17.90" y="322.12" width="14.88" height="10.91" fill="#ffcf00"/>
<rect x="32.73" y="322.12" width="14.88" height="10.91" fill="#ff2000"/>
<rect x="47.56" y="322.12" width="14.88" height="10.91" fill="#ef0000"/>
<rect x="62.39" y="322.12" width="14.88" height="10.91" fill="#ef0000"/>
<rect x="77.22" y="322.12" width="14.88" height="10.91" fill="#ff8000"/>
<rect x="92.05" y="322.12" width="14.88" height="10.91" fill="#ff7000"/>
<rect x="106.88" y="322.12" width="14.88" height="10.91" fill="#8fff70"/>
<rect x="121.71" y="322.12" width="14.88" height="10.91" fill="#ff8f00"/>
<rect x="136.54" y="322.12" width="14.88" height="10.91" fill="#00dfff"/>
<rect x="151.37" y="322.12" width="14.88" height="10.91" fill="#ffcf00"/>
<rect x="166.20" y="322.12" width="14.88" height="10.91" fill="#dfff20"/>
<rect x="181.03" y="322.12" width="14.88" height="10.91" fill="#cf0000"/>
<rect x="195.86" y="322.12" width="14.88" height="10.91" fill="#800000"/>
<rect x="17.90" y="332.98" width="14.88" height="10.91" fill="#9fff60"/>
<rect x="32.73" y="332.98" width="14.88" height="10.91" fill="#ffaf00"/>
<rect x="47.56" y="332.98" width="14.88" height="10.91" fill="#ff3000"/>
<rect x="62.39" y="332.98" width="14.88" height="10.91" fill="#ef0000"/>
<rect x="77.22" y="332.98" width="14.88" height="10.91" fill="#ffcf00"/>
<rect x="92.05" y="332.98" width="14.88" height="10.91" fill="#ffff00"/>
<rect x="106.88" y="332.98" width="14.88" height="10.91" fill="#ffdf00"/>
<rect x="121.71" y="332.98" width="14.88" height="10.91" fill="#ffff00"/>
<rect x="136.54" y="332.98" width="14.88" height="10.91" fill="#80ff80"/>
<rect x="151.37" y="332.98" width="14.88" height="10.91" fill="#8fff70"/>
<rect x="166.20" y="332.98" width="14.88" height="10.91" fill="#efff10"/>
<rect x="181.03" y="332.98" width="14.88" height="10.91" fill="#bf0000"/>
<rect x="195.86" y="332.98" width="14.88" height="10.91" fill="#bf0000"/>
<rect x="210.69" y="332.98" width="14.88" height="10.91" fill="#800000"/>
<text class="v" x="25.31" y="198.98" fill="#fff">1.00</text>
<text class="v" x="25.31" y="209.84" fill="#000">0.35</text>
<text class="v" x="40.14" y="209.84" fill="#fff">1.00</text>
<text class="v" x="25.31" y="220.70" fill="#000">0.30</text>
<text class="v" x="40.14" y="220.70" fill="#000">0.44</text>
<text class="v" x="54.98" y="220.70" fill="#fff">1.00</text>
<text class="v" x="25.31" y="231.56" fill="#000">0.11</text>
<text class="v" x="40.14" y="231.56" fill="#fff">0.72</text>
<text class="v" x="54.98" y="231.56" fill="#fff">0.57</text>
<text class="v" x="69.81" y="231.56" fill="#fff">1.00</text>
<text class="v" x="25.31" y="242.42" fill="#000">0.22</text>
<text class="v" x="40.14" y="242.42" fill="#fff">0.59</text>
<text class="v" x="54.98" y="242.42" fill="#000">0.20</text>
<text class="v" x="69.81" y="242.42" fill="#000">0.30</text>
<text class="v" x="84.64" y="242.42" fill="#fff">1.00</text>
<text class="v" x="25.31" y="253.28" fill="#000">0.40</text>
<text class="v" x="40.14" y="253.28" fill="#fff">0.61</text>
<text class="v" x="54.98" y="253.28" fill="#fff">0.57</text>
<text class="v" x="69.81" y="253.28" fill="#000">0.23</text>
<text class="v" x="84.64" y="253.28" fill="#000">0.46</text>
<text class="v" x="99.47" y="253.28" fill="#fff">1.00</text>
<text class="v" x="25.31" y="264.14" fill="#fff">-0.50</text>
<text class="v" x="40.14" y="264.14" fill="#000">-0.04</text>
<text class="v" x="54.98" y="264.14" fill="#000">-0.27</text>
<text class="v" x="69.81" y="264.14" fill="#000">0.30</text>
<text class="v" x="84.64" y="264.14" fill="#000">0.09</text>
<text class="v" x="99.47" y="264.14" fill="#000">-0.36</text>
<text class="v" x="114.30" y="264.14" fill="#fff">1.00</text>
<text class="v" x="25.31" y="275.00" fill="#000">0.21</text>
<text class="v" x="40.14" y="275.00" fill="#fff">0.70</text>
<text class="v" x="54.98" y="275.00" fill="#000">0.45</text>
<text class="v" x="69.81" y="275.00" fill="#000">0.26</text>
<text class="v" x="84.64" y="275.00" fill="#000">0.45</text>
<text class="v" x="99.47" y="275.00" fill="#fff">0.83</text>
<text class="v" x="114.30" y="275.00" fill="#000">-0.26</text>
<text class="v" x="129.12" y="275.00" fill="#fff">1.00</text>
<text class="v" x="25.31" y="285.86" fill="#fff">-0.53</text>
<text class="v" x="40.14" y="285.86" fill="#000">-0.34</text>
<text class="v" x="54.98" y="285.86" fill="#fff">-0.58</text>
<text class="v" x="69.81" y="285.86" fill="#000">0.01</text>
<text class="v" x="84.64" y="285.86" fill="#000">-0.13</text>
<text class="v" x="99.47" y="285.86" fill="#fff">-0.77</text>
<text class="v" x="114.30" y="285.86" fill="#fff">0.84</text>
<text class="v" x="129.12" y="285.86" fill="#fff">-0.60</text>
<text class="v" x="143.95" y="285.86" fill="#fff">1.00</text>
<text class="v" x="25.31" y="296.72" fill="#000">0.53</text>
<text class="v" x="40.14" y="296.72" fill="#000">0.34</text>
<text class="v" x="54.98" y="296.72" fill="#fff">0.58</text>
<text class="v" x="69.81" y="296.72" fill="#000">-0.01</text>
<text class="v" x="84.64" y="296.72" fill="#000">0.13</text>
<text class="v" x="99.47" y="296.72" fill="#fff">0.77</text>
<text class="v" x="114.30" y="296.72" fill="#fff">-0.84</text>
<text class="v" x="129.12" y="296.72" fill="#fff">0.60</text>
<text class="v" x="143.95" y="296.72" fill="#fff">-1.00</text>
<text class="v" x="158.78" y="296.72" fill="#fff">1.00</text>
<text class="v" x="25.31" y="307.58" fill="#000">0.15</text>
<text class="v" x="40.14" y="307.58" fill="#000">-0.23</text>
<text class="v" x="54.98" y="307.58" fill="#000">0.49</text>
<text class="v" x="69.81" y="307.58" fill="#000">-0.02</text>
<text class="v" x="84.64" y="307.58" fill="#000">-0.43</text>
<text class="v" x="99.47" y="307.58" fill="#000">0.29</text>
<text class="v" x="114.30" y="307.58" fill="#000">-0.28</text>
<text class="v" x="129.12" y="307.58" fill="#000">-0.04</text>
<text class="v" x="143.95" y="307.58" fill="#fff">-0.44</text>
<text class="v" x="158.78" y="307.58" fill="#000">0.44</text>
<text class="v" x="173.62" y="307.58" fill="#fff">1.00</text>
<text class="v" x="25.31" y="318.44" fill="#000">-0.01</text>
<text class="v" x="40.14" y="318.44" fill="#000">0.59</text>
<text class="v" x="54.98" y="318.44" fill="#fff">0.73</text>
<text class="v" x="69.81" y="318.44" fill="#fff">0.74</text>
<text class="v" x="84.64" y="318.44" fill="#000">0.24</text>
<text class="v" x="99.47" y="318.44" fill="#000">0.45</text>
<text class="v" x="114.30" y="318.44" fill="#000">0.20</text>
<text class="v" x="129.12" y="318.44" fill="#000">0.44</text>
<text class="v" x="143.95" y="318.44" fill="#000">-0.19</text>
<text class="v" x="158.78" y="318.44" fill="#000">0.19</text>
<text class="v" x="173.62" y="318.44" fill="#000">0.34</text>
<text class="v" x="188.44" y="318.44" fill="#fff">1.00</text>
<text class="v" x="25.31" y="329.30" fill="#000">0.34</text>
<text class="v" x="40.14" y="329.30" fill="#fff">0.66</text>
<text class="v" x="54.98" y="329.30" fill="#fff">0.76</text>
<text class="v" x="69.81" y="329.30" fill="#fff">0.77</text>
<text class="v" x="84.64" y="329.30" fill="#000">0.49</text>
<text class="v" x="99.47" y="329.30" fill="#000">0.53</text>
<text class="v" x="114.30" y="329.30" fill="#000">0.02</text>
<text class="v" x="129.12" y="329.30" fill="#000">0.46</text>
<text class="v" x="143.95" y="329.30" fill="#000">-0.32</text>
<text class="v" x="158.78" y="329.30" fill="#000">0.32</text>
<text class="v" x="173.62" y="329.30" fill="#000">0.17</text>
<text class="v" x="188.44" y="329.30" fill="#fff">0.83</text>
<text class="v" x="203.28" y="329.30" fill="#fff">1.00</text>
<text class="v" x="25.31" y="340.16" fill="#000">0.04</text>
<text class="v" x="40.14" y="340.16" fill="#000">0.40</text>
<text class="v" x="54.98" y="340.16" fill="#fff">0.63</text>
<text class="v" x="69.81" y="340.16" fill="#fff">0.75</text>
<text class="v" x="84.64" y="340.16" fill="#000">0.32</text>
<text class="v" x="99.47" y="340.16" fill="#000">0.24</text>
<text class="v" x="114.30" y="340.16" fill="#000">0.30</text>
<text class="v" x="129.12" y="340.16" fill="#000">0.23</text>
<text class="v" x="143.95" y="340.16" fill="#000">-0.01</text>
<text class="v" x="158.78" y="340.16" fill="#000">0.01</text>
<text class="v" x="173.62" y="340.16" fill="#000">0.19</text>
<text class="v" x="188.44" y="340.16" fill="#fff">0.86</text>
<text class="v" x="203.28" y="340.16" fill="#fff">0.86</text>
<text class="v" x="218.10" y="340.16" fill="#fff">1.00</text>
<text class="rl" x="15.80" y="199.13">mv</text>
<text class="rl" x="15.80" y="209.99">Dbl</text>
<text class="rl" x="15.80" y="220.85">Odd</text>
<text class="rl" x="15.80" y="231.71">Vol</text>
<text class="rl" x="14.10" y="244.17" style="font-size:6px">α</text>
<text class="rl" x="15.80" y="253.43">A</text>
<text class="rl" x="15.80" y="264.29">H</text>
<text class="rl" x="15.80" y="275.15">DERD</text>
<text class="rl" x="15.80" y="286.01">rvi</text>
<text class="rl" x="15.80" y="296.87">Pr</text>
<text class="rl" x="15.80" y="307.73">SERD</text>
<text class="rl" x="15.80" y="318.59">HH</text>
<text class="rl" x="15.80" y="329.45">VV</text>
<text class="rl" x="15.80" y="340.31">HV</text>
<text class="cl" x="25.31" y="351.24">mv</text>
<text class="cl" x="40.14" y="351.24">Dbl</text>
<text class="cl" x="54.98" y="351.24">Odd</text>
<text class="cl" x="69.81" y="351.24">Vol</text>
<text class="cl" x="85.44" y="351.74" style="font-size:6px">α</text>
<text class="cl" x="99.47" y="351.24">A</text>
<text class="cl" x="114.30" y="351.24">H</text>
<text class="cl" x="129.12" y="351.24">DERD</text>
<text class="cl" x="143.95" y="351.24">rvi</text>
<text class="cl" x="158.78" y="351.24">Pr</text>
<text class="cl" x="173.62" y="351.24">SERD</text>
<text class="cl" x="188.44" y="351.24">HH</text>
<text class="cl" x="203.28" y="351.24">VV</text>
<text class="cl" x="218.10" y="351.24">HV</text>
<text class="t" x="121.71" y="189.80">R of Corn</text>
<rect x="230.00" y="191.50" width="8.90" height="138.90" fill="url(#jet)"/>
<text class="tk" x="240.70" y="192.90">1</text>
<text class="tk" x="240.70" y="206.88">0.8</text>
<path d="M238.00 205.39h0.9" stroke="#444" stroke-width="0.25"/>
<text class="tk" x="240.70" y="220.86">0.6</text>
<path d="M238.00 219.28h0.9" stroke="#444" stroke-width="0.25"/>
<text class="tk" x="240.70" y="234.84">0.4</text>
<path d="M238.00 233.17h0.9" stroke="#444" stroke-width="0.25"/>
<text class="tk" x="240.70" y="248.82">0.2</text>
<path d="M238.00 247.06h0.9" stroke="#444" stroke-width="0.25"/>
<text class="tk" x="240.70" y="262.80">0</text>
<path d="M238.00 260.95h0.9" stroke="#444" stroke-width="0.25"/>
<text class="tk" x="240.70" y="276.78">-0.2</text>
<path d="M238.00 274.84h0.9" stroke="#444" stroke-width="0.25"/>
<text class="tk" x="240.70" y="290.76">-0.4</text>
<path d="M238.00 288.73h0.9" stroke="#444" stroke-width="0.25"/>
<text class="tk" x="240.70" y="304.74">-0.6</text>
<path d="M238.00 302.62h0.9" stroke="#444" stroke-width="0.25"/>
<text class="tk" x="240.70" y="318.72">-0.8</text>
<path d="M238.00 316.51h0.9" stroke="#444" stroke-width="0.25"/>
<text class="tk" x="240.70" y="332.70">-1</text>
<text class="lab" x="125.20" y="363.80">(c)</text>
<path d="M270.70 191.60H478.32V343.84" fill="none" stroke="#c8c8c8" stroke-width="0.6"/>
<rect x="270.70" y="191.80" width="14.88" height="10.91" fill="#800000"/>
<rect x="270.70" y="202.66" width="14.88" height="10.91" fill="#ffef00"/>
<rect x="285.53" y="202.66" width="14.88" height="10.91" fill="#800000"/>
<rect x="270.70" y="213.52" width="14.88" height="10.91" fill="#ffef00"/>
<rect x="285.53" y="213.52" width="14.88" height="10.91" fill="#ff9f00"/>
<rect x="300.36" y="213.52" width="14.88" height="10.91" fill="#800000"/>
<rect x="270.70" y="224.38" width="14.88" height="10.91" fill="#ffdf00"/>
<rect x="285.53" y="224.38" width="14.88" height="10.91" fill="#bf0000"/>
<rect x="300.36" y="224.38" width="14.88" height="10.91" fill="#ffef00"/>
<rect x="315.19" y="224.38" width="14.88" height="10.91" fill="#800000"/>
<rect x="270.70" y="235.24" width="14.88" height="10.91" fill="#ffaf00"/>
<rect x="285.53" y="235.24" width="14.88" height="10.91" fill="#cf0000"/>
<rect x="300.36" y="235.24" width="14.88" height="10.91" fill="#bfff40"/>
<rect x="315.19" y="235.24" width="14.88" height="10.91" fill="#ef0000"/>
<rect x="330.02" y="235.24" width="14.88" height="10.91" fill="#800000"/>
<rect x="270.70" y="246.10" width="14.88" height="10.91" fill="#50ffaf"/>
<rect x="285.53" y="246.10" width="14.88" height="10.91" fill="#bfff40"/>
<rect x="300.36" y="246.10" width="14.88" height="10.91" fill="#ff8000"/>
<rect x="315.19" y="246.10" width="14.88" height="10.91" fill="#30ffcf"/>
<rect x="330.02" y="246.10" width="14.88" height="10.91" fill="#30ffcf"/>
<rect x="344.85" y="246.10" width="14.88" height="10.91" fill="#800000"/>
<rect x="270.70" y="256.96" width="14.88" height="10.91" fill="#ffcf00"/>
<rect x="285.53" y="256.96" width="14.88" height="10.91" fill="#ff4000"/>
<rect x="300.36" y="256.96" width="14.88" height="10.91" fill="#ffef00"/>
<rect x="315.19" y="256.96" width="14.88" height="10.91" fill="#ef0000"/>
<rect x="330.02" y="256.96" width="14.88" height="10.91" fill="#ff4000"/>
<rect x="344.85" y="256.96" width="14.88" height="10.91" fill="#80ff80"/>
<rect x="359.68" y="256.96" width="14.88" height="10.91" fill="#800000"/>
<rect x="270.70" y="267.82" width="14.88" height="10.91" fill="#70ff8f"/>
<rect x="285.53" y="267.82" width="14.88" height="10.91" fill="#ffaf00"/>
<rect x="300.36" y="267.82" width="14.88" height="10.91" fill="#ffaf00"/>
<rect x="315.19" y="267.82" width="14.88" height="10.91" fill="#bfff40"/>
<rect x="330.02" y="267.82" width="14.88" height="10.91" fill="#dfff20"/>
<rect x="344.85" y="267.82" width="14.88" height="10.91" fill="#bf0000"/>
<rect x="359.68" y="267.82" width="14.88" height="10.91" fill="#dfff20"/>
<rect x="374.51" y="267.82" width="14.88" height="10.91" fill="#800000"/>
<rect x="270.70" y="278.68" width="14.88" height="10.91" fill="#ffcf00"/>
<rect x="285.53" y="278.68" width="14.88" height="10.91" fill="#ff8000"/>
<rect x="300.36" y="278.68" width="14.88" height="10.91" fill="#70ff8f"/>
<rect x="315.19" y="278.68" width="14.88" height="10.91" fill="#ef0000"/>
<rect x="330.02" y="278.68" width="14.88" height="10.91" fill="#ff4000"/>
<rect x="344.85" y="278.68" width="14.88" height="10.91" fill="#0060ff"/>
<rect x="359.68" y="278.68" width="14.88" height="10.91" fill="#df0000"/>
<rect x="374.51" y="278.68" width="14.88" height="10.91" fill="#00dfff"/>
<rect x="389.34" y="278.68" width="14.88" height="10.91" fill="#800000"/>
<rect x="270.70" y="289.54" width="14.88" height="10.91" fill="#00dfff"/>
<rect x="285.53" y="289.54" width="14.88" height="10.91" fill="#008fff"/>
<rect x="300.36" y="289.54" width="14.88" height="10.91" fill="#9fff60"/>
<rect x="315.19" y="289.54" width="14.88" height="10.91" fill="#0000ff"/>
<rect x="330.02" y="289.54" width="14.88" height="10.91" fill="#0050ff"/>
<rect x="344.85" y="289.54" width="14.88" height="10.91" fill="#ff5000"/>
<rect x="359.68" y="289.54" width="14.88" height="10.91" fill="#0000ef"/>
<rect x="374.51" y="289.54" width="14.88" height="10.91" fill="#ffcf00"/>
<rect x="389.34" y="289.54" width="14.88" height="10.91" fill="#00008f"/>
<rect x="404.17" y="289.54" width="14.88" height="10.91" fill="#800000"/>
<rect x="270.70" y="300.40" width="14.88" height="10.91" fill="#00ffff"/>
<rect x="285.53" y="300.40" width="14.88" height="10.91" fill="#0030ff"/>
<rect x="300.36" y="300.40" width="14.88" height="10.91" fill="#bfff40"/>
<rect x="315.19" y="300.40" width="14.88" height="10.91" fill="#0000df"/>
<rect x="330.02" y="300.40" width="14.88" height="10.91" fill="#0010ff"/>
<rect x="344.85" y="300.40" width="14.88" height="10.91" fill="#ffbf00"/>
<rect x="359.68" y="300.40" width="14.88" height="10.91" fill="#0000ff"/>
<rect x="374.51" y="300.40" width="14.88" height="10.91" fill="#80ff80"/>
<rect x="389.34" y="300.40" width="14.88" height="10.91" fill="#0000cf"/>
<rect x="404.17" y="300.40" width="14.88" height="10.91" fill="#bf0000"/>
<rect x="419.00" y="300.40" width="14.88" height="10.91" fill="#800000"/>
<rect x="270.70" y="311.26" width="14.88" height="10.91" fill="#ff9f00"/>
<rect x="285.53" y="311.26" width="14.88" height="10.91" fill="#ff5000"/>
<rect x="300.36" y="311.26" width="14.88" height="10.91" fill="#bfff40"/>
<rect x="315.19" y="311.26" width="14.88" height="10.91" fill="#ff2000"/>
<rect x="330.02" y="311.26" width="14.88" height="10.91" fill="#ff1000"/>
<rect x="344.85" y="311.26" width="14.88" height="10.91" fill="#00dfff"/>
<rect x="359.68" y="311.26" width="14.88" height="10.91" fill="#ff9f00"/>
<rect x="374.51" y="311.26" width="14.88" height="10.91" fill="#80ff80"/>
<rect x="389.34" y="311.26" width="14.88" height="10.91" fill="#ff7000"/>
<rect x="404.17" y="311.26" width="14.88" height="10.91" fill="#0080ff"/>
<rect x="419.00" y="311.26" width="14.88" height="10.91" fill="#0080ff"/>
<rect x="433.83" y="311.26" width="14.88" height="10.91" fill="#800000"/>
<rect x="270.70" y="322.12" width="14.88" height="10.91" fill="#ffbf00"/>
<rect x="285.53" y="322.12" width="14.88" height="10.91" fill="#ff0000"/>
<rect x="300.36" y="322.12" width="14.88" height="10.91" fill="#ffef00"/>
<rect x="315.19" y="322.12" width="14.88" height="10.91" fill="#df0000"/>
<rect x="330.02" y="322.12" width="14.88" height="10.91" fill="#ff2000"/>
<rect x="344.85" y="322.12" width="14.88" height="10.91" fill="#9fff60"/>
<rect x="359.68" y="322.12" width="14.88" height="10.91" fill="#ff1000"/>
<rect x="374.51" y="322.12" width="14.88" height="10.91" fill="#ffef00"/>
<rect x="389.34" y="322.12" width="14.88" height="10.91" fill="#ff7000"/>
<rect x="404.17" y="322.12" width="14.88" height="10.91" fill="#0080ff"/>
<rect x="419.00" y="322.12" width="14.88" height="10.91" fill="#0050ff"/>
<rect x="433.83" y="322.12" width="14.88" height="10.91" fill="#ef0000"/>
<rect x="448.66" y="322.12" width="14.88" height="10.91" fill="#800000"/>
<rect x="270.70" y="332.98" width="14.88" height="10.91" fill="#ff9f00"/>
<rect x="285.53" y="332.98" width="14.88" height="10.91" fill="#ff2000"/>
<rect x="300.36" y="332.98" width="14.88" height="10.91" fill="#80ff80"/>
<rect x="315.19" y="332.98" width="14.88" height="10.91" fill="#cf0000"/>
<rect x="330.02" y="332.98" width="14.88" height="10.91" fill="#ef0000"/>
<rect x="344.85" y="332.98" width="14.88" height="10.91" fill="#00cfff"/>
<rect x="359.68" y="332.98" width="14.88" height="10.91" fill="#ff4000"/>
<rect x="374.51" y="332.98" width="14.88" height="10.91" fill="#70ff8f"/>
<rect x="389.34" y="332.98" width="14.88" height="10.91" fill="#ff1000"/>
<rect x="404.17" y="332.98" width="14.88" height="10.91" fill="#0020ff"/>
<rect x="419.00" y="332.98" width="14.88" height="10.91" fill="#0010ff"/>
<rect x="433.83" y="332.98" width="14.88" height="10.91" fill="#af0000"/>
<rect x="448.66" y="332.98" width="14.88" height="10.91" fill="#af0000"/>
<rect x="463.49" y="332.98" width="14.88" height="10.91" fill="#800000"/>
<text class="v" x="278.12" y="198.98" fill="#fff">1.00</text>
<text class="v" x="278.12" y="209.84" fill="#000">0.28</text>
<text class="v" x="292.94" y="209.84" fill="#fff">1.00</text>
<text class="v" x="278.12" y="220.70" fill="#000">0.26</text>
<text class="v" x="292.94" y="220.70" fill="#000">0.43</text>
<text class="v" x="307.78" y="220.70" fill="#fff">1.00</text>
<text class="v" x="278.12" y="231.56" fill="#000">0.30</text>
<text class="v" x="292.94" y="231.56" fill="#fff">0.85</text>
<text class="v" x="307.78" y="231.56" fill="#000">0.26</text>
<text class="v" x="322.61" y="231.56" fill="#fff">1.00</text>
<text class="v" x="278.12" y="242.42" fill="#000">0.38</text>
<text class="v" x="292.94" y="242.42" fill="#fff">0.83</text>
<text class="v" x="307.78" y="242.42" fill="#000">0.10</text>
<text class="v" x="322.61" y="242.42" fill="#fff">0.78</text>
<text class="v" x="337.44" y="242.42" fill="#fff">1.00</text>
<text class="v" x="278.12" y="253.28" fill="#000">-0.10</text>
<text class="v" x="292.94" y="253.28" fill="#000">0.10</text>
<text class="v" x="307.78" y="253.28" fill="#000">0.48</text>
<text class="v" x="322.61" y="253.28" fill="#000">-0.17</text>
<text class="v" x="337.44" y="253.28" fill="#000">-0.17</text>
<text class="v" x="352.27" y="253.28" fill="#fff">1.00</text>
<text class="v" x="278.12" y="264.14" fill="#000">0.33</text>
<text class="v" x="292.94" y="264.14" fill="#fff">0.61</text>
<text class="v" x="307.78" y="264.14" fill="#000">0.25</text>
<text class="v" x="322.61" y="264.14" fill="#fff">0.76</text>
<text class="v" x="337.44" y="264.14" fill="#fff">0.60</text>
<text class="v" x="352.27" y="264.14" fill="#000">-0.02</text>
<text class="v" x="367.10" y="264.14" fill="#fff">1.00</text>
<text class="v" x="278.12" y="275.00" fill="#000">-0.06</text>
<text class="v" x="292.94" y="275.00" fill="#000">0.39</text>
<text class="v" x="307.78" y="275.00" fill="#000">0.38</text>
<text class="v" x="322.61" y="275.00" fill="#000">0.11</text>
<text class="v" x="337.44" y="275.00" fill="#000">0.18</text>
<text class="v" x="352.27" y="275.00" fill="#fff">0.85</text>
<text class="v" x="367.10" y="275.00" fill="#000">0.16</text>
<text class="v" x="381.93" y="275.00" fill="#fff">1.00</text>
<text class="v" x="278.12" y="285.86" fill="#000">0.34</text>
<text class="v" x="292.94" y="285.86" fill="#000">0.47</text>
<text class="v" x="307.78" y="285.86" fill="#000">-0.06</text>
<text class="v" x="322.61" y="285.86" fill="#fff">0.76</text>
<text class="v" x="337.44" y="285.86" fill="#fff">0.61</text>
<text class="v" x="352.27" y="285.86" fill="#fff">-0.57</text>
<text class="v" x="367.10" y="285.86" fill="#fff">0.81</text>
<text class="v" x="381.93" y="285.86" fill="#000">-0.34</text>
<text class="v" x="396.75" y="285.86" fill="#fff">1.00</text>
<text class="v" x="278.12" y="296.72" fill="#000">-0.34</text>
<text class="v" x="292.94" y="296.72" fill="#fff">-0.47</text>
<text class="v" x="307.78" y="296.72" fill="#000">0.06</text>
<text class="v" x="322.61" y="296.72" fill="#fff">-0.76</text>
<text class="v" x="337.44" y="296.72" fill="#fff">-0.61</text>
<text class="v" x="352.27" y="296.72" fill="#fff">0.57</text>
<text class="v" x="367.10" y="296.72" fill="#fff">-0.81</text>
<text class="v" x="381.93" y="296.72" fill="#000">0.34</text>
<text class="v" x="396.75" y="296.72" fill="#fff">-1.00</text>
<text class="v" x="411.58" y="296.72" fill="#fff">1.00</text>
<text class="v" x="278.12" y="307.58" fill="#000">-0.27</text>
<text class="v" x="292.94" y="307.58" fill="#fff">-0.66</text>
<text class="v" x="307.78" y="307.58" fill="#000">0.11</text>
<text class="v" x="322.61" y="307.58" fill="#fff">-0.83</text>
<text class="v" x="337.44" y="307.58" fill="#fff">-0.73</text>
<text class="v" x="352.27" y="307.58" fill="#000">0.36</text>
<text class="v" x="367.10" y="307.58" fill="#fff">-0.77</text>
<text class="v" x="381.93" y="307.58" fill="#000">-0.02</text>
<text class="v" x="396.75" y="307.58" fill="#fff">-0.86</text>
<text class="v" x="411.58" y="307.58" fill="#fff">0.86</text>
<text class="v" x="426.42" y="307.58" fill="#fff">1.00</text>
<text class="v" x="278.12" y="318.44" fill="#000">0.42</text>
<text class="v" x="292.94" y="318.44" fill="#fff">0.59</text>
<text class="v" x="307.78" y="318.44" fill="#000">0.11</text>
<text class="v" x="322.61" y="318.44" fill="#fff">0.67</text>
<text class="v" x="337.44" y="318.44" fill="#fff">0.70</text>
<text class="v" x="352.27" y="318.44" fill="#000">-0.33</text>
<text class="v" x="367.10" y="318.44" fill="#000">0.42</text>
<text class="v" x="381.93" y="318.44" fill="#000">-0.01</text>
<text class="v" x="396.75" y="318.44" fill="#000">0.52</text>
<text class="v" x="411.58" y="318.44" fill="#fff">-0.52</text>
<text class="v" x="426.42" y="318.44" fill="#fff">-0.52</text>
<text class="v" x="441.25" y="318.44" fill="#fff">1.00</text>
<text class="v" x="278.12" y="329.30" fill="#000">0.35</text>
<text class="v" x="292.94" y="329.30" fill="#fff">0.74</text>
<text class="v" x="307.78" y="329.30" fill="#000">0.27</text>
<text class="v" x="322.61" y="329.30" fill="#fff">0.80</text>
<text class="v" x="337.44" y="329.30" fill="#fff">0.67</text>
<text class="v" x="352.27" y="329.30" fill="#000">0.04</text>
<text class="v" x="367.10" y="329.30" fill="#fff">0.69</text>
<text class="v" x="381.93" y="329.30" fill="#000">0.27</text>
<text class="v" x="396.75" y="329.30" fill="#000">0.53</text>
<text class="v" x="411.58" y="329.30" fill="#fff">-0.53</text>
<text class="v" x="426.42" y="329.30" fill="#fff">-0.60</text>
<text class="v" x="441.25" y="329.30" fill="#fff">0.78</text>
<text class="v" x="456.07" y="329.30" fill="#fff">1.00</text>
<text class="v" x="278.12" y="340.16" fill="#000">0.42</text>
<text class="v" x="292.94" y="340.16" fill="#fff">0.66</text>
<text class="v" x="307.78" y="340.16" fill="#000">-0.01</text>
<text class="v" x="322.61" y="340.16" fill="#fff">0.82</text>
<text class="v" x="337.44" y="340.16" fill="#fff">0.77</text>
<text class="v" x="352.27" y="340.16" fill="#000">-0.35</text>
<text class="v" x="367.10" y="340.16" fill="#fff">0.61</text>
<text class="v" x="381.93" y="340.16" fill="#000">-0.05</text>
<text class="v" x="396.75" y="340.16" fill="#fff">0.71</text>
<text class="v" x="411.58" y="340.16" fill="#fff">-0.71</text>
<text class="v" x="426.42" y="340.16" fill="#fff">-0.72</text>
<text class="v" x="441.25" y="340.16" fill="#fff">0.88</text>
<text class="v" x="456.07" y="340.16" fill="#fff">0.88</text>
<text class="v" x="470.91" y="340.16" fill="#fff">1.00</text>
<text class="rl" x="268.60" y="199.13">mv</text>
<text class="rl" x="268.60" y="209.99">Dbl</text>
<text class="rl" x="268.60" y="220.85">Odd</text>
<text class="rl" x="268.60" y="231.71">Vol</text>
<text class="rl" x="266.90" y="244.17" style="font-size:6px">α</text>
<text class="rl" x="268.60" y="253.43">A</text>
<text class="rl" x="268.60" y="264.29">H</text>
<text class="rl" x="268.60" y="275.15">DERD</text>
<text class="rl" x="268.60" y="286.01">rvi</text>
<text class="rl" x="268.60" y="296.87">Pr</text>
<text class="rl" x="268.60" y="307.73">SERD</text>
<text class="rl" x="268.60" y="318.59">HH</text>
<text class="rl" x="268.60" y="329.45">VV</text>
<text class="rl" x="268.60" y="340.31">HV</text>
<text class="cl" x="278.12" y="351.24">mv</text>
<text class="cl" x="292.94" y="351.24">Dbl</text>
<text class="cl" x="307.78" y="351.24">Odd</text>
<text class="cl" x="322.61" y="351.24">Vol</text>
<text class="cl" x="338.24" y="351.74" style="font-size:6px">α</text>
<text class="cl" x="352.27" y="351.24">A</text>
<text class="cl" x="367.10" y="351.24">H</text>
<text class="cl" x="381.93" y="351.24">DERD</text>
<text class="cl" x="396.75" y="351.24">rvi</text>
<text class="cl" x="411.58" y="351.24">Pr</text>
<text class="cl" x="426.42" y="351.24">SERD</text>
<text class="cl" x="441.25" y="351.24">HH</text>
<text class="cl" x="456.07" y="351.24">VV</text>
<text class="cl" x="470.91" y="351.24">HV</text>
<text class="t" x="374.51" y="189.80">R of Canola</text>
<rect x="482.80" y="191.50" width="8.90" height="138.90" fill="url(#jet)"/>
<text class="tk" x="493.50" y="192.90">1</text>
<text class="tk" x="493.50" y="206.88">0.8</text>
<path d="M490.80 205.39h0.9" stroke="#444" stroke-width="0.25"/>
<text class="tk" x="493.50" y="220.86">0.6</text>
<path d="M490.80 219.28h0.9" stroke="#444" stroke-width="0.25"/>
<text class="tk" x="493.50" y="234.84">0.4</text>
<path d="M490.80 233.17h0.9" stroke="#444" stroke-width="0.25"/>
<text class="tk" x="493.50" y="248.82">0.2</text>
<path d="M490.80 247.06h0.9" stroke="#444" stroke-width="0.25"/>
<text class="tk" x="493.50" y="262.80">0</text>
<path d="M490.80 260.95h0.9" stroke="#444" stroke-width="0.25"/>
<text class="tk" x="493.50" y="276.78">-0.2</text>
<path d="M490.80 274.84h0.9" stroke="#444" stroke-width="0.25"/>
<text class="tk" x="493.50" y="290.76">-0.4</text>
<path d="M490.80 288.73h0.9" stroke="#444" stroke-width="0.25"/>
<text class="tk" x="493.50" y="304.74">-0.6</text>
<path d="M490.80 302.62h0.9" stroke="#444" stroke-width="0.25"/>
<text class="tk" x="493.50" y="318.72">-0.8</text>
<path d="M490.80 316.51h0.9" stroke="#444" stroke-width="0.25"/>
<text class="tk" x="493.50" y="332.70">-1</text>
<text class="lab" x="378.00" y="363.80">(d)</text>
<path d="M144.30 374.60H351.92V526.84" fill="none" stroke="#c8c8c8" stroke-width="0.6"/>
<rect x="144.30" y="374.80" width="14.88" height="10.91" fill="#800000"/>
<rect x="144.30" y="385.66" width="14.88" height="10.91" fill="#ff2000"/>
<rect x="159.13" y="385.66" width="14.88" height="10.91" fill="#800000"/>
<rect x="144.30" y="396.52" width="14.88" height="10.91" fill="#ffbf00"/>
<rect x="159.13" y="396.52" width="14.88" height="10.91" fill="#ff0000"/>
<rect x="173.96" y="396.52" width="14.88" height="10.91" fill="#800000"/>
<rect x="144.30" y="407.38" width="14.88" height="10.91" fill="#ffff00"/>
<rect x="159.13" y="407.38" width="14.88" height="10.91" fill="#ff4000"/>
<rect x="173.96" y="407.38" width="14.88" height="10.91" fill="#ff5000"/>
<rect x="188.79" y="407.38" width="14.88" height="10.91" fill="#800000"/>
<rect x="144.30" y="418.24" width="14.88" height="10.91" fill="#ffef00"/>
<rect x="159.13" y="418.24" width="14.88" height="10.91" fill="#9fff60"/>
<rect x="173.96" y="418.24" width="14.88" height="10.91" fill="#009fff"/>
<rect x="188.79" y="418.24" width="14.88" height="10.91" fill="#20ffdf"/>
<rect x="203.62" y="418.24" width="14.88" height="10.91" fill="#800000"/>
<rect x="144.30" y="429.10" width="14.88" height="10.91" fill="#ff8000"/>
<rect x="159.13" y="429.10" width="14.88" height="10.91" fill="#ff9f00"/>
<rect x="173.96" y="429.10" width="14.88" height="10.91" fill="#ffbf00"/>
<rect x="188.79" y="429.10" width="14.88" height="10.91" fill="#10ffef"/>
<rect x="203.62" y="429.10" width="14.88" height="10.91" fill="#9fff60"/>
<rect x="218.45" y="429.10" width="14.88" height="10.91" fill="#800000"/>
<rect x="144.30" y="439.96" width="14.88" height="10.91" fill="#8fff70"/>
<rect x="159.13" y="439.96" width="14.88" height="10.91" fill="#10ffef"/>
<rect x="173.96" y="439.96" width="14.88" height="10.91" fill="#0050ff"/>
<rect x="188.79" y="439.96" width="14.88" height="10.91" fill="#10ffef"/>
<rect x="203.62" y="439.96" width="14.88" height="10.91" fill="#bf0000"/>
<rect x="218.45" y="439.96" width="14.88" height="10.91" fill="#00efff"/>
<rect x="233.28" y="439.96" width="14.88" height="10.91" fill="#800000"/>
<rect x="144.30" y="450.82" width="14.88" height="10.91" fill="#ff6000"/>
<rect x="159.13" y="450.82" width="14.88" height="10.91" fill="#ff8000"/>
<rect x="173.96" y="450.82" width="14.88" height="10.91" fill="#ffdf00"/>
<rect x="188.79" y="450.82" width="14.88" height="10.91" fill="#10ffef"/>
<rect x="203.62" y="450.82" width="14.88" height="10.91" fill="#efff10"/>
<rect x="218.45" y="450.82" width="14.88" height="10.91" fill="#8f0000"/>
<rect x="233.28" y="450.82" width="14.88" height="10.91" fill="#30ffcf"/>
<rect x="248.11" y="450.82" width="14.88" height="10.91" fill="#800000"/>
<rect x="144.30" y="461.68" width="14.88" height="10.91" fill="#00ffff"/>
<rect x="159.13" y="461.68" width="14.88" height="10.91" fill="#00bfff"/>
<rect x="173.96" y="461.68" width="14.88" height="10.91" fill="#0040ff"/>
<rect x="188.79" y="461.68" width="14.88" height="10.91" fill="#50ffaf"/>
<rect x="203.62" y="461.68" width="14.88" height="10.91" fill="#ff4000"/>
<rect x="218.45" y="461.68" width="14.88" height="10.91" fill="#0030ff"/>
<rect x="233.28" y="461.68" width="14.88" height="10.91" fill="#af0000"/>
<rect x="248.11" y="461.68" width="14.88" height="10.91" fill="#0060ff"/>
<rect x="262.94" y="461.68" width="14.88" height="10.91" fill="#800000"/>
<rect x="144.30" y="472.54" width="14.88" height="10.91" fill="#ffef00"/>
<rect x="159.13" y="472.54" width="14.88" height="10.91" fill="#ffaf00"/>
<rect x="173.96" y="472.54" width="14.88" height="10.91" fill="#ff3000"/>
<rect x="188.79" y="472.54" width="14.88" height="10.91" fill="#bfff40"/>
<rect x="203.62" y="472.54" width="14.88" height="10.91" fill="#0050ff"/>
<rect x="218.45" y="472.54" width="14.88" height="10.91" fill="#ff2000"/>
<rect x="233.28" y="472.54" width="14.88" height="10.91" fill="#0000bf"/>
<rect x="248.11" y="472.54" width="14.88" height="10.91" fill="#ff5000"/>
<rect x="262.94" y="472.54" width="14.88" height="10.91" fill="#00008f"/>
<rect x="277.77" y="472.54" width="14.88" height="10.91" fill="#800000"/>
<rect x="144.30" y="483.40" width="14.88" height="10.91" fill="#8fff70"/>
<rect x="159.13" y="483.40" width="14.88" height="10.91" fill="#efff10"/>
<rect x="173.96" y="483.40" width="14.88" height="10.91" fill="#ff3000"/>
<rect x="188.79" y="483.40" width="14.88" height="10.91" fill="#bfff40"/>
<rect x="203.62" y="483.40" width="14.88" height="10.91" fill="#0000cf"/>
<rect x="218.45" y="483.40" width="14.88" height="10.91" fill="#ffbf00"/>
<rect x="233.28" y="483.40" width="14.88" height="10.91" fill="#0000bf"/>
<rect x="248.11" y="483.40" width="14.88" height="10.91" fill="#dfff20"/>
<rect x="262.94" y="483.40" width="14.88" height="10.91" fill="#0000cf"/>
<rect x="277.77" y="483.40" width="14.88" height="10.91" fill="#bf0000"/>
<rect x="292.60" y="483.40" width="14.88" height="10.91" fill="#800000"/>
<rect x="144.30" y="494.26" width="14.88" height="10.91" fill="#ffbf00"/>
<rect x="159.13" y="494.26" width="14.88" height="10.91" fill="#ff6000"/>
<rect x="173.96" y="494.26" width="14.88" height="10.91" fill="#ff7000"/>
<rect x="188.79" y="494.26" width="14.88" height="10.91" fill="#ff4000"/>
<rect x="203.62" y="494.26" width="14.88" height="10.91" fill="#80ff80"/>
<rect x="218.45" y="494.26" width="14.88" height="10.91" fill="#80ff80"/>
<rect x="233.28" y="494.26" width="14.88" height="10.91" fill="#50ffaf"/>
<rect x="248.11" y="494.26" width="14.88" height="10.91" fill="#afff50"/>
<rect x="262.94" y="494.26" width="14.88" height="10.91" fill="#40ffbf"/>
<rect x="277.77" y="494.26" width="14.88" height="10.91" fill="#cfff30"/>
<rect x="292.60" y="494.26" width="14.88" height="10.91" fill="#bfff40"/>
<rect x="307.43" y="494.26" width="14.88" height="10.91" fill="#800000"/>
<rect x="144.30" y="505.12" width="14.88" height="10.91" fill="#ffdf00"/>
<rect x="159.13" y="505.12" width="14.88" height="10.91" fill="#ff6000"/>
<rect x="173.96" y="505.12" width="14.88" height="10.91" fill="#ff7000"/>
<rect x="188.79" y="505.12" width="14.88" height="10.91" fill="#df0000"/>
<rect x="203.62" y="505.12" width="14.88" height="10.91" fill="#60ff9f"/>
<rect x="218.45" y="505.12" width="14.88" height="10.91" fill="#30ffcf"/>
<rect x="233.28" y="505.12" width="14.88" height="10.91" fill="#30ffcf"/>
<rect x="248.11" y="505.12" width="14.88" height="10.91" fill="#60ff9f"/>
<rect x="262.94" y="505.12" width="14.88" height="10.91" fill="#50ffaf"/>
<rect x="277.77" y="505.12" width="14.88" height="10.91" fill="#bfff40"/>
<rect x="292.60" y="505.12" width="14.88" height="10.91" fill="#afff50"/>
<rect x="307.43" y="505.12" width="14.88" height="10.91" fill="#af0000"/>
<rect x="322.26" y="505.12" width="14.88" height="10.91" fill="#800000"/>
<rect x="144.30" y="515.98" width="14.88" height="10.91" fill="#ffdf00"/>
<rect x="159.13" y="515.98" width="14.88" height="10.91" fill="#ff9f00"/>
<rect x="173.96" y="515.98" width="14.88" height="10.91" fill="#ffff00"/>
<rect x="188.79" y="515.98" width="14.88" height="10.91" fill="#ff8000"/>
<rect x="203.62" y="515.98" width="14.88" height="10.91" fill="#ffef00"/>
<rect x="218.45" y="515.98" width="14.88" height="10.91" fill="#60ff9f"/>
<rect x="233.28" y="515.98" width="14.88" height="10.91" fill="#efff10"/>
<rect x="248.11" y="515.98" width="14.88" height="10.91" fill="#8fff70"/>
<rect x="262.94" y="515.98" width="14.88" height="10.91" fill="#cfff30"/>
<rect x="277.77" y="515.98" width="14.88" height="10.91" fill="#40ffbf"/>
<rect x="292.60" y="515.98" width="14.88" height="10.91" fill="#10ffef"/>
<rect x="307.43" y="515.98" width="14.88" height="10.91" fill="#af0000"/>
<rect x="322.26" y="515.98" width="14.88" height="10.91" fill="#ef0000"/>
<rect x="337.09" y="515.98" width="14.88" height="10.91" fill="#800000"/>
<text class="v" x="151.72" y="381.98" fill="#fff">1.00</text>
<text class="v" x="151.72" y="392.84" fill="#fff">0.68</text>
<text class="v" x="166.55" y="392.84" fill="#fff">1.00</text>
<text class="v" x="151.72" y="403.70" fill="#000">0.36</text>
<text class="v" x="166.55" y="403.70" fill="#fff">0.73</text>
<text class="v" x="181.38" y="403.70" fill="#fff">1.00</text>
<text class="v" x="151.72" y="414.56" fill="#000">0.24</text>
<text class="v" x="166.55" y="414.56" fill="#fff">0.61</text>
<text class="v" x="181.38" y="414.56" fill="#fff">0.59</text>
<text class="v" x="196.21" y="414.56" fill="#fff">1.00</text>
<text class="v" x="151.72" y="425.42" fill="#000">0.26</text>
<text class="v" x="166.55" y="425.42" fill="#000">0.05</text>
<text class="v" x="181.38" y="425.42" fill="#fff">-0.44</text>
<text class="v" x="196.21" y="425.42" fill="#000">-0.19</text>
<text class="v" x="211.03" y="425.42" fill="#fff">1.00</text>
<text class="v" x="151.72" y="436.28" fill="#000">0.49</text>
<text class="v" x="166.55" y="436.28" fill="#000">0.42</text>
<text class="v" x="181.38" y="436.28" fill="#000">0.35</text>
<text class="v" x="196.21" y="436.28" fill="#000">-0.22</text>
<text class="v" x="211.03" y="436.28" fill="#000">0.04</text>
<text class="v" x="225.87" y="436.28" fill="#fff">1.00</text>
<text class="v" x="151.72" y="447.14" fill="#000">-0.00</text>
<text class="v" x="166.55" y="447.14" fill="#000">-0.22</text>
<text class="v" x="181.38" y="447.14" fill="#fff">-0.62</text>
<text class="v" x="196.21" y="447.14" fill="#000">-0.22</text>
<text class="v" x="211.03" y="447.14" fill="#fff">0.86</text>
<text class="v" x="225.87" y="447.14" fill="#000">-0.30</text>
<text class="v" x="240.70" y="447.14" fill="#fff">1.00</text>
<text class="v" x="151.72" y="458.00" fill="#000">0.54</text>
<text class="v" x="166.55" y="458.00" fill="#000">0.49</text>
<text class="v" x="181.38" y="458.00" fill="#000">0.29</text>
<text class="v" x="196.21" y="458.00" fill="#000">-0.24</text>
<text class="v" x="211.03" y="458.00" fill="#000">0.21</text>
<text class="v" x="225.87" y="458.00" fill="#fff">0.94</text>
<text class="v" x="240.70" y="458.00" fill="#000">-0.18</text>
<text class="v" x="255.53" y="458.00" fill="#fff">1.00</text>
<text class="v" x="151.72" y="468.86" fill="#000">-0.27</text>
<text class="v" x="166.55" y="468.86" fill="#000">-0.38</text>
<text class="v" x="181.38" y="468.86" fill="#fff">-0.64</text>
<text class="v" x="196.21" y="468.86" fill="#000">-0.10</text>
<text class="v" x="211.03" y="468.86" fill="#fff">0.62</text>
<text class="v" x="225.87" y="468.86" fill="#fff">-0.67</text>
<text class="v" x="240.70" y="468.86" fill="#fff">0.88</text>
<text class="v" x="255.53" y="468.86" fill="#fff">-0.57</text>
<text class="v" x="270.36" y="468.86" fill="#fff">1.00</text>
<text class="v" x="151.72" y="479.72" fill="#000">0.27</text>
<text class="v" x="166.55" y="479.72" fill="#000">0.38</text>
<text class="v" x="181.38" y="479.72" fill="#fff">0.64</text>
<text class="v" x="196.21" y="479.72" fill="#000">0.10</text>
<text class="v" x="211.03" y="479.72" fill="#fff">-0.62</text>
<text class="v" x="225.87" y="479.72" fill="#fff">0.67</text>
<text class="v" x="240.70" y="479.72" fill="#fff">-0.88</text>
<text class="v" x="255.53" y="479.72" fill="#fff">0.57</text>
<text class="v" x="270.36" y="479.72" fill="#fff">-1.00</text>
<text class="v" x="285.19" y="479.72" fill="#fff">1.00</text>
<text class="v" x="151.72" y="490.58" fill="#000">0.03</text>
<text class="v" x="166.55" y="490.58" fill="#000">0.19</text>
<text class="v" x="181.38" y="490.58" fill="#fff">0.63</text>
<text class="v" x="196.21" y="490.58" fill="#000">0.12</text>
<text class="v" x="211.03" y="490.58" fill="#fff">-0.85</text>
<text class="v" x="225.87" y="490.58" fill="#000">0.37</text>
<text class="v" x="240.70" y="490.58" fill="#fff">-0.90</text>
<text class="v" x="255.53" y="490.58" fill="#000">0.18</text>
<text class="v" x="270.36" y="490.58" fill="#fff">-0.86</text>
<text class="v" x="285.19" y="490.58" fill="#fff">0.86</text>
<text class="v" x="300.02" y="490.58" fill="#fff">1.00</text>
<text class="v" x="151.72" y="501.44" fill="#000">0.35</text>
<text class="v" x="166.55" y="501.44" fill="#000">0.54</text>
<text class="v" x="181.38" y="501.44" fill="#000">0.51</text>
<text class="v" x="196.21" y="501.44" fill="#fff">0.60</text>
<text class="v" x="211.03" y="501.44" fill="#000">-0.03</text>
<text class="v" x="225.87" y="501.44" fill="#000">-0.02</text>
<text class="v" x="240.70" y="501.44" fill="#000">-0.12</text>
<text class="v" x="255.53" y="501.44" fill="#000">0.07</text>
<text class="v" x="270.36" y="501.44" fill="#000">-0.14</text>
<text class="v" x="285.19" y="501.44" fill="#000">0.14</text>
<text class="v" x="300.02" y="501.44" fill="#000">0.10</text>
<text class="v" x="314.85" y="501.44" fill="#fff">1.00</text>
<text class="v" x="151.72" y="512.30" fill="#000">0.30</text>
<text class="v" x="166.55" y="512.30" fill="#fff">0.56</text>
<text class="v" x="181.38" y="512.30" fill="#000">0.52</text>
<text class="v" x="196.21" y="512.30" fill="#fff">0.79</text>
<text class="v" x="211.03" y="512.30" fill="#000">-0.08</text>
<text class="v" x="225.87" y="512.30" fill="#000">-0.17</text>
<text class="v" x="240.70" y="512.30" fill="#000">-0.17</text>
<text class="v" x="255.53" y="512.30" fill="#000">-0.07</text>
<text class="v" x="270.36" y="512.30" fill="#000">-0.11</text>
<text class="v" x="285.19" y="512.30" fill="#000">0.11</text>
<text class="v" x="300.02" y="512.30" fill="#000">0.09</text>
<text class="v" x="314.85" y="512.30" fill="#fff">0.89</text>
<text class="v" x="329.68" y="512.30" fill="#fff">1.00</text>
<text class="v" x="151.72" y="523.16" fill="#000">0.29</text>
<text class="v" x="166.55" y="523.16" fill="#000">0.41</text>
<text class="v" x="181.38" y="523.16" fill="#000">0.24</text>
<text class="v" x="196.21" y="523.16" fill="#000">0.48</text>
<text class="v" x="211.03" y="523.16" fill="#000">0.26</text>
<text class="v" x="225.87" y="523.16" fill="#000">-0.09</text>
<text class="v" x="240.70" y="523.16" fill="#000">0.19</text>
<text class="v" x="255.53" y="523.16" fill="#000">0.03</text>
<text class="v" x="270.36" y="523.16" fill="#000">0.13</text>
<text class="v" x="285.19" y="523.16" fill="#000">-0.13</text>
<text class="v" x="300.02" y="523.16" fill="#000">-0.24</text>
<text class="v" x="314.85" y="523.16" fill="#fff">0.88</text>
<text class="v" x="329.68" y="523.16" fill="#fff">0.75</text>
<text class="v" x="344.51" y="523.16" fill="#fff">1.00</text>
<text class="rl" x="142.20" y="382.13">mv</text>
<text class="rl" x="142.20" y="392.99">Dbl</text>
<text class="rl" x="142.20" y="403.85">Odd</text>
<text class="rl" x="142.20" y="414.71">Vol</text>
<text class="rl" x="140.50" y="427.17" style="font-size:6px">α</text>
<text class="rl" x="142.20" y="436.43">A</text>
<text class="rl" x="142.20" y="447.29">H</text>
<text class="rl" x="142.20" y="458.15">DERD</text>
<text class="rl" x="142.20" y="469.01">rvi</text>
<text class="rl" x="142.20" y="479.87">Pr</text>
<text class="rl" x="142.20" y="490.73">SERD</text>
<text class="rl" x="142.20" y="501.59">HH</text>
<text class="rl" x="142.20" y="512.45">VV</text>
<text class="rl" x="142.20" y="523.31">HV</text>
<text class="cl" x="151.72" y="534.24">mv</text>
<text class="cl" x="166.55" y="534.24">Dbl</text>
<text class="cl" x="181.38" y="534.24">Odd</text>
<text class="cl" x="196.21" y="534.24">Vol</text>
<text class="cl" x="211.84" y="534.74" style="font-size:6px">α</text>
<text class="cl" x="225.87" y="534.24">A</text>
<text class="cl" x="240.70" y="534.24">H</text>
<text class="cl" x="255.53" y="534.24">DERD</text>
<text class="cl" x="270.36" y="534.24">rvi</text>
<text class="cl" x="285.19" y="534.24">Pr</text>
<text class="cl" x="300.02" y="534.24">SERD</text>
<text class="cl" x="314.85" y="534.24">HH</text>
<text class="cl" x="329.68" y="534.24">VV</text>
<text class="cl" x="344.51" y="534.24">HV</text>
<text class="t" x="248.11" y="372.80">R of Grassland</text>
<rect x="356.40" y="374.50" width="8.90" height="138.90" fill="url(#jet)"/>
<text class="tk" x="367.10" y="375.90">1</text>
<text class="tk" x="367.10" y="389.88">0.8</text>
<path d="M364.40 388.39h0.9" stroke="#444" stroke-width="0.25"/>
<text class="tk" x="367.10" y="403.86">0.6</text>
<path d="M364.40 402.28h0.9" stroke="#444" stroke-width="0.25"/>
<text class="tk" x="367.10" y="417.84">0.4</text>
<path d="M364.40 416.17h0.9" stroke="#444" stroke-width="0.25"/>
<text class="tk" x="367.10" y="431.82">0.2</text>
<path d="M364.40 430.06h0.9" stroke="#444" stroke-width="0.25"/>
<text class="tk" x="367.10" y="445.80">0</text>
<path d="M364.40 443.95h0.9" stroke="#444" stroke-width="0.25"/>
<text class="tk" x="367.10" y="459.78">-0.2</text>
<path d="M364.40 457.84h0.9" stroke="#444" stroke-width="0.25"/>
<text class="tk" x="367.10" y="473.76">-0.4</text>
<path d="M364.40 471.73h0.9" stroke="#444" stroke-width="0.25"/>
<text class="tk" x="367.10" y="487.74">-0.6</text>
<path d="M364.40 485.62h0.9" stroke="#444" stroke-width="0.25"/>
<text class="tk" x="367.10" y="501.72">-0.8</text>
<path d="M364.40 499.51h0.9" stroke="#444" stroke-width="0.25"/>
<text class="tk" x="367.10" y="515.70">-1</text>
<text class="lab" x="251.60" y="546.80">(e)</text>
</svg>
</body></html>
